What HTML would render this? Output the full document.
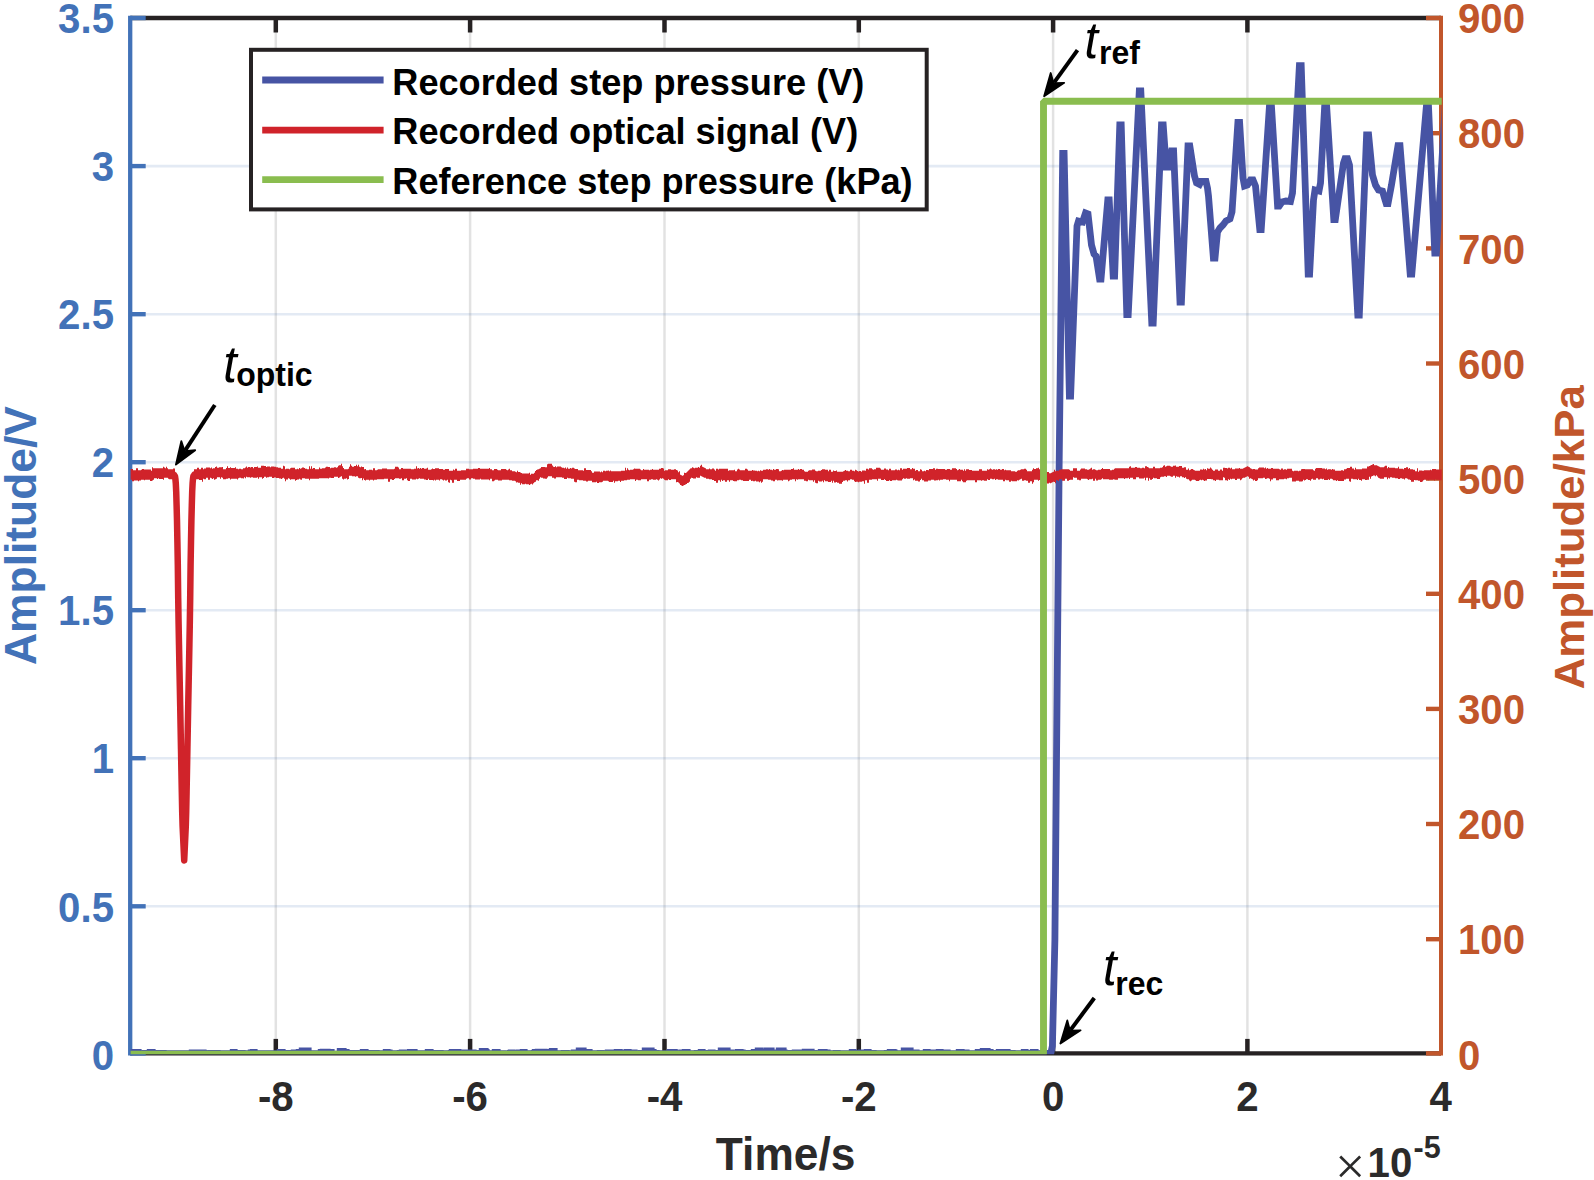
<!DOCTYPE html>
<html lang="en"><head><meta charset="utf-8"><title>Step pressure response</title>
<style>html,body{margin:0;padding:0;background:#fff;}svg{display:block;}text{font-family:"Liberation Sans",sans-serif;font-weight:bold;}.it{font-style:italic;font-weight:normal;}.rg{font-weight:normal;}</style></head><body>
<svg width="1594" height="1180" viewBox="0 0 1594 1180">
<rect width="1594" height="1180" fill="#fff"/>
<defs><clipPath id="cp"><rect x="130.6" y="17.5" width="1311.1" height="1036.8"/></clipPath></defs>
<line x1="275.8" y1="18.0" x2="275.8" y2="1053.4" stroke="#000" stroke-opacity="0.112" stroke-width="2.5"/>
<line x1="470.1" y1="18.0" x2="470.1" y2="1053.4" stroke="#000" stroke-opacity="0.112" stroke-width="2.5"/>
<line x1="664.5" y1="18.0" x2="664.5" y2="1053.4" stroke="#000" stroke-opacity="0.112" stroke-width="2.5"/>
<line x1="858.8" y1="18.0" x2="858.8" y2="1053.4" stroke="#000" stroke-opacity="0.112" stroke-width="2.5"/>
<line x1="1053.1" y1="18.0" x2="1053.1" y2="1053.4" stroke="#000" stroke-opacity="0.112" stroke-width="2.5"/>
<line x1="1247.4" y1="18.0" x2="1247.4" y2="1053.4" stroke="#000" stroke-opacity="0.112" stroke-width="2.5"/>
<line x1="130.2" y1="906.3" x2="1441.0" y2="906.3" stroke="#4272b8" stroke-opacity="0.15" stroke-width="2.6"/>
<line x1="130.2" y1="758.2" x2="1441.0" y2="758.2" stroke="#4272b8" stroke-opacity="0.15" stroke-width="2.6"/>
<line x1="130.2" y1="610.2" x2="1441.0" y2="610.2" stroke="#4272b8" stroke-opacity="0.15" stroke-width="2.6"/>
<line x1="130.2" y1="462.2" x2="1441.0" y2="462.2" stroke="#4272b8" stroke-opacity="0.15" stroke-width="2.6"/>
<line x1="130.2" y1="314.2" x2="1441.0" y2="314.2" stroke="#4272b8" stroke-opacity="0.15" stroke-width="2.6"/>
<line x1="130.2" y1="166.1" x2="1441.0" y2="166.1" stroke="#4272b8" stroke-opacity="0.15" stroke-width="2.6"/>
<line x1="130.2" y1="18.0" x2="1441.0" y2="18.0" stroke="#262223" stroke-width="4.3"/>
<line x1="130.2" y1="1053.4" x2="1441.0" y2="1053.4" stroke="#262223" stroke-width="4.3"/>
<line x1="275.8" y1="18.0" x2="275.8" y2="32.5" stroke="#262223" stroke-width="4.5"/>
<line x1="275.8" y1="1053.4" x2="275.8" y2="1038.9" stroke="#262223" stroke-width="4.5"/>
<line x1="470.1" y1="18.0" x2="470.1" y2="32.5" stroke="#262223" stroke-width="4.5"/>
<line x1="470.1" y1="1053.4" x2="470.1" y2="1038.9" stroke="#262223" stroke-width="4.5"/>
<line x1="664.5" y1="18.0" x2="664.5" y2="32.5" stroke="#262223" stroke-width="4.5"/>
<line x1="664.5" y1="1053.4" x2="664.5" y2="1038.9" stroke="#262223" stroke-width="4.5"/>
<line x1="858.8" y1="18.0" x2="858.8" y2="32.5" stroke="#262223" stroke-width="4.5"/>
<line x1="858.8" y1="1053.4" x2="858.8" y2="1038.9" stroke="#262223" stroke-width="4.5"/>
<line x1="1053.1" y1="18.0" x2="1053.1" y2="32.5" stroke="#262223" stroke-width="4.5"/>
<line x1="1053.1" y1="1053.4" x2="1053.1" y2="1038.9" stroke="#262223" stroke-width="4.5"/>
<line x1="1247.4" y1="18.0" x2="1247.4" y2="32.5" stroke="#262223" stroke-width="4.5"/>
<line x1="1247.4" y1="1053.4" x2="1247.4" y2="1038.9" stroke="#262223" stroke-width="4.5"/>
<line x1="130.2" y1="15.85" x2="130.2" y2="1055.5500000000002" stroke="#4272b8" stroke-width="4.3"/>
<line x1="1441.0" y1="15.85" x2="1441.0" y2="1055.5500000000002" stroke="#c1562b" stroke-width="4.0"/>
<line x1="130.2" y1="1053.4" x2="145.7" y2="1053.4" stroke="#4272b8" stroke-width="4.4"/>
<line x1="130.2" y1="906.3" x2="145.7" y2="906.3" stroke="#4272b8" stroke-width="4.4"/>
<line x1="130.2" y1="758.2" x2="145.7" y2="758.2" stroke="#4272b8" stroke-width="4.4"/>
<line x1="130.2" y1="610.2" x2="145.7" y2="610.2" stroke="#4272b8" stroke-width="4.4"/>
<line x1="130.2" y1="462.2" x2="145.7" y2="462.2" stroke="#4272b8" stroke-width="4.4"/>
<line x1="130.2" y1="314.2" x2="145.7" y2="314.2" stroke="#4272b8" stroke-width="4.4"/>
<line x1="130.2" y1="166.1" x2="145.7" y2="166.1" stroke="#4272b8" stroke-width="4.4"/>
<line x1="130.2" y1="18.0" x2="145.7" y2="18.0" stroke="#4272b8" stroke-width="4.4"/>
<line x1="1441.0" y1="1053.4" x2="1426.0" y2="1053.4" stroke="#c1562b" stroke-width="4.4"/>
<line x1="1441.0" y1="939.2" x2="1426.0" y2="939.2" stroke="#c1562b" stroke-width="4.4"/>
<line x1="1441.0" y1="824.0" x2="1426.0" y2="824.0" stroke="#c1562b" stroke-width="4.4"/>
<line x1="1441.0" y1="708.9" x2="1426.0" y2="708.9" stroke="#c1562b" stroke-width="4.4"/>
<line x1="1441.0" y1="593.8" x2="1426.0" y2="593.8" stroke="#c1562b" stroke-width="4.4"/>
<line x1="1441.0" y1="478.6" x2="1426.0" y2="478.6" stroke="#c1562b" stroke-width="4.4"/>
<line x1="1441.0" y1="363.5" x2="1426.0" y2="363.5" stroke="#c1562b" stroke-width="4.4"/>
<line x1="1441.0" y1="248.4" x2="1426.0" y2="248.4" stroke="#c1562b" stroke-width="4.4"/>
<line x1="1441.0" y1="133.2" x2="1426.0" y2="133.2" stroke="#c1562b" stroke-width="4.4"/>
<line x1="1441.0" y1="18.0" x2="1426.0" y2="18.0" stroke="#c1562b" stroke-width="4.4"/>
<g clip-path="url(#cp)" fill="none" stroke-linejoin="miter" stroke-miterlimit="1.7" stroke-linecap="butt">
<polyline stroke="#4754a4" stroke-width="6.8" points="128.2,1053.7 129.2,1053.7 129.2,1053.7 130.2,1053.7 130.2,1053.7 131.2,1053.7 131.2,1053.7 132.2,1053.7 132.2,1053.7 133.2,1053.7 133.2,1052.5 134.2,1052.5 134.2,1053.7 135.2,1053.7 135.2,1052.9 136.2,1052.9 136.2,1052.5 137.2,1052.5 137.2,1052.5 138.2,1052.5 138.2,1054.1 139.2,1054.1 139.2,1054.1 140.2,1054.1 140.2,1054.1 141.2,1054.1 141.2,1053.7 142.2,1053.7 142.2,1053.7 143.2,1053.7 143.2,1053.7 144.2,1053.7 144.2,1053.7 145.2,1053.7 145.2,1053.3 146.2,1053.3 146.2,1054.1 147.2,1054.1 147.2,1054.1 148.2,1054.1 148.2,1054.1 149.2,1054.1 149.2,1054.1 150.2,1054.1 150.2,1052.5 151.2,1052.5 151.2,1052.5 152.2,1052.5 152.2,1053.7 153.2,1053.7 153.2,1053.7 154.2,1053.7 154.2,1053.7 155.2,1053.7 155.2,1053.7 156.2,1053.7 156.2,1053.3 157.2,1053.3 157.2,1053.7 158.2,1053.7 158.2,1053.7 159.2,1053.7 159.2,1053.7 160.2,1053.7 160.2,1053.7 161.2,1053.7 161.2,1053.3 162.2,1053.3 162.2,1053.3 163.2,1053.3 163.2,1053.7 164.2,1053.7 164.2,1053.7 165.2,1053.7 165.2,1053.7 166.2,1053.7 166.2,1053.7 167.2,1053.7 167.2,1053.7 168.2,1053.7 168.2,1053.7 169.2,1053.7 169.2,1053.7 170.2,1053.7 170.2,1053.7 171.2,1053.7 171.2,1053.7 172.2,1053.7 172.2,1053.7 173.2,1053.7 173.2,1053.7 174.2,1053.7 174.2,1053.7 175.2,1053.7 175.2,1053.7 176.2,1053.7 176.2,1053.7 177.2,1053.7 177.2,1053.7 178.2,1053.7 178.2,1053.7 179.2,1053.7 179.2,1053.7 180.2,1053.7 180.2,1053.7 181.2,1053.7 181.2,1054.1 182.2,1054.1 182.2,1054.1 183.2,1054.1 183.2,1053.7 184.2,1053.7 184.2,1053.7 185.2,1053.7 185.2,1053.7 186.2,1053.7 186.2,1053.7 187.2,1053.7 187.2,1053.7 188.2,1053.7 188.2,1053.7 189.2,1053.7 189.2,1053.7 190.2,1053.7 190.2,1054.1 191.2,1054.1 191.2,1054.1 192.2,1054.1 192.2,1052.9 193.2,1052.9 193.2,1052.9 194.2,1052.9 194.2,1053.7 195.2,1053.7 195.2,1053.7 196.2,1053.7 196.2,1053.3 197.2,1053.3 197.2,1052.9 198.2,1052.9 198.2,1053.7 199.2,1053.7 199.2,1053.7 200.2,1053.7 200.2,1053.7 201.2,1053.7 201.2,1052.9 202.2,1052.9 202.2,1052.9 203.2,1052.9 203.2,1053.3 204.2,1053.3 204.2,1053.7 205.2,1053.7 205.2,1053.7 206.2,1053.7 206.2,1053.7 207.2,1053.7 207.2,1053.7 208.2,1053.7 208.2,1053.7 209.2,1053.7 209.2,1053.7 210.2,1053.7 210.2,1053.7 211.2,1053.7 211.2,1053.3 212.2,1053.3 212.2,1053.7 213.2,1053.7 213.2,1053.7 214.2,1053.7 214.2,1053.7 215.2,1053.7 215.2,1053.7 216.2,1053.7 216.2,1053.3 217.2,1053.3 217.2,1054.1 218.2,1054.1 218.2,1054.1 219.2,1054.1 219.2,1054.1 220.2,1054.1 220.2,1053.7 221.2,1053.7 221.2,1053.7 222.2,1053.7 222.2,1053.7 223.2,1053.7 223.2,1054.1 224.2,1054.1 224.2,1054.1 225.2,1054.1 225.2,1054.1 226.2,1054.1 226.2,1053.7 227.2,1053.7 227.2,1053.7 228.2,1053.7 228.2,1054.1 229.2,1054.1 229.2,1054.1 230.2,1054.1 230.2,1054.1 231.2,1054.1 231.2,1053.7 232.2,1053.7 232.2,1053.7 233.2,1053.7 233.2,1052.5 234.2,1052.5 234.2,1053.3 235.2,1053.3 235.2,1053.7 236.2,1053.7 236.2,1053.7 237.2,1053.7 237.2,1053.7 238.2,1053.7 238.2,1054.1 239.2,1054.1 239.2,1054.1 240.2,1054.1 240.2,1053.3 241.2,1053.3 241.2,1053.3 242.2,1053.3 242.2,1054.1 243.2,1054.1 243.2,1054.1 244.2,1054.1 244.2,1054.1 245.2,1054.1 245.2,1054.1 246.2,1054.1 246.2,1053.7 247.2,1053.7 247.2,1053.7 248.2,1053.7 248.2,1053.7 249.2,1053.7 249.2,1053.7 250.2,1053.7 250.2,1053.7 251.2,1053.7 251.2,1052.9 252.2,1052.9 252.2,1052.9 253.2,1052.9 253.2,1052.5 254.2,1052.5 254.2,1053.7 255.2,1053.7 255.2,1053.7 256.2,1053.7 256.2,1053.7 257.2,1053.7 257.2,1054.1 258.2,1054.1 258.2,1054.1 259.2,1054.1 259.2,1054.1 260.2,1054.1 260.2,1054.1 261.2,1054.1 261.2,1054.1 262.2,1054.1 262.2,1053.7 263.2,1053.7 263.2,1053.7 264.2,1053.7 264.2,1053.7 265.2,1053.7 265.2,1054.1 266.2,1054.1 266.2,1054.1 267.2,1054.1 267.2,1053.7 268.2,1053.7 268.2,1054.1 269.2,1054.1 269.2,1054.1 270.2,1054.1 270.2,1054.1 271.2,1054.1 271.2,1053.7 272.2,1053.7 272.2,1053.7 273.2,1053.7 273.2,1053.7 274.2,1053.7 274.2,1053.7 275.2,1053.7 275.2,1053.7 276.2,1053.7 276.2,1053.7 277.2,1053.7 277.2,1054.1 278.2,1054.1 278.2,1053.7 279.2,1053.7 279.2,1053.7 280.2,1053.7 280.2,1052.5 281.2,1052.5 281.2,1052.5 282.2,1052.5 282.2,1053.7 283.2,1053.7 283.2,1053.7 284.2,1053.7 284.2,1053.7 285.2,1053.7 285.2,1053.7 286.2,1053.7 286.2,1053.3 287.2,1053.3 287.2,1053.3 288.2,1053.3 288.2,1054.1 289.2,1054.1 289.2,1054.1 290.2,1054.1 290.2,1054.1 291.2,1054.1 291.2,1053.7 292.2,1053.7 292.2,1053.7 293.2,1053.7 293.2,1053.7 294.2,1053.7 294.2,1052.9 295.2,1052.9 295.2,1052.9 296.2,1052.9 296.2,1053.7 297.2,1053.7 297.2,1054.1 298.2,1054.1 298.2,1054.1 299.2,1054.1 299.2,1052.5 300.2,1052.5 300.2,1054.1 301.2,1054.1 301.2,1053.7 302.2,1053.7 302.2,1050.9 303.2,1050.9 303.2,1050.9 304.2,1050.9 304.2,1050.9 305.2,1050.9 305.2,1050.9 306.2,1050.9 306.2,1050.9 307.2,1050.9 307.2,1050.9 308.2,1050.9 308.2,1053.7 309.2,1053.7 309.2,1053.7 310.2,1053.7 310.2,1053.7 311.2,1053.7 311.2,1053.7 312.2,1053.7 312.2,1053.7 313.2,1053.7 313.2,1053.7 314.2,1053.7 314.2,1053.7 315.2,1053.7 315.2,1053.7 316.2,1053.7 316.2,1053.7 317.2,1053.7 317.2,1053.7 318.2,1053.7 318.2,1054.1 319.2,1054.1 319.2,1054.1 320.2,1054.1 320.2,1054.1 321.2,1054.1 321.2,1052.5 322.2,1052.5 322.2,1053.7 323.2,1053.7 323.2,1052.1 324.2,1052.1 324.2,1052.1 325.2,1052.1 325.2,1052.1 326.2,1052.1 326.2,1052.1 327.2,1052.1 327.2,1054.1 328.2,1054.1 328.2,1054.1 329.2,1054.1 329.2,1052.9 330.2,1052.9 330.2,1052.5 331.2,1052.5 331.2,1054.1 332.2,1054.1 332.2,1054.1 333.2,1054.1 333.2,1054.1 334.2,1054.1 334.2,1054.1 335.2,1054.1 335.2,1054.1 336.2,1054.1 336.2,1054.1 337.2,1054.1 337.2,1054.1 338.2,1054.1 338.2,1054.1 339.2,1054.1 339.2,1054.1 340.2,1054.1 340.2,1051.5 341.2,1051.5 341.2,1051.5 342.2,1051.5 342.2,1051.5 343.2,1051.5 343.2,1053.7 344.2,1053.7 344.2,1052.5 345.2,1052.5 345.2,1052.5 346.2,1052.5 346.2,1053.3 347.2,1053.3 347.2,1054.1 348.2,1054.1 348.2,1054.1 349.2,1054.1 349.2,1054.1 350.2,1054.1 350.2,1053.7 351.2,1053.7 351.2,1053.7 352.2,1053.7 352.2,1053.7 353.2,1053.7 353.2,1053.3 354.2,1053.3 354.2,1053.3 355.2,1053.3 355.2,1053.3 356.2,1053.3 356.2,1053.7 357.2,1053.7 357.2,1054.1 358.2,1054.1 358.2,1054.1 359.2,1054.1 359.2,1054.1 360.2,1054.1 360.2,1053.7 361.2,1053.7 361.2,1053.7 362.2,1053.7 362.2,1053.7 363.2,1053.7 363.2,1052.5 364.2,1052.5 364.2,1052.5 365.2,1052.5 365.2,1054.1 366.2,1054.1 366.2,1053.7 367.2,1053.7 367.2,1053.7 368.2,1053.7 368.2,1053.7 369.2,1053.7 369.2,1053.7 370.2,1053.7 370.2,1053.7 371.2,1053.7 371.2,1053.3 372.2,1053.3 372.2,1053.7 373.2,1053.7 373.2,1053.7 374.2,1053.7 374.2,1053.7 375.2,1053.7 375.2,1053.3 376.2,1053.3 376.2,1053.7 377.2,1053.7 377.2,1054.1 378.2,1054.1 378.2,1054.1 379.2,1054.1 379.2,1054.1 380.2,1054.1 380.2,1053.7 381.2,1053.7 381.2,1053.7 382.2,1053.7 382.2,1053.7 383.2,1053.7 383.2,1053.7 384.2,1053.7 384.2,1053.7 385.2,1053.7 385.2,1053.7 386.2,1053.7 386.2,1052.5 387.2,1052.5 387.2,1052.9 388.2,1052.9 388.2,1052.9 389.2,1052.9 389.2,1053.7 390.2,1053.7 390.2,1053.7 391.2,1053.7 391.2,1053.7 392.2,1053.7 392.2,1053.7 393.2,1053.7 393.2,1053.7 394.2,1053.7 394.2,1053.7 395.2,1053.7 395.2,1053.7 396.2,1053.7 396.2,1054.1 397.2,1054.1 397.2,1054.1 398.2,1054.1 398.2,1054.1 399.2,1054.1 399.2,1054.1 400.2,1054.1 400.2,1053.3 401.2,1053.3 401.2,1053.7 402.2,1053.7 402.2,1052.9 403.2,1052.9 403.2,1053.7 404.2,1053.7 404.2,1053.7 405.2,1053.7 405.2,1053.7 406.2,1053.7 406.2,1053.7 407.2,1053.7 407.2,1053.7 408.2,1053.7 408.2,1053.7 409.2,1053.7 409.2,1053.7 410.2,1053.7 410.2,1052.5 411.2,1052.5 411.2,1052.5 412.2,1052.5 412.2,1053.7 413.2,1053.7 413.2,1052.5 414.2,1052.5 414.2,1053.7 415.2,1053.7 415.2,1053.7 416.2,1053.7 416.2,1054.1 417.2,1054.1 417.2,1053.7 418.2,1053.7 418.2,1053.7 419.2,1053.7 419.2,1053.7 420.2,1053.7 420.2,1053.7 421.2,1053.7 421.2,1053.7 422.2,1053.7 422.2,1053.7 423.2,1053.7 423.2,1054.1 424.2,1054.1 424.2,1054.1 425.2,1054.1 425.2,1053.7 426.2,1053.7 426.2,1053.7 427.2,1053.7 427.2,1053.7 428.2,1053.7 428.2,1052.5 429.2,1052.5 429.2,1052.5 430.2,1052.5 430.2,1053.3 431.2,1053.3 431.2,1053.3 432.2,1053.3 432.2,1054.1 433.2,1054.1 433.2,1054.1 434.2,1054.1 434.2,1053.7 435.2,1053.7 435.2,1053.7 436.2,1053.7 436.2,1054.1 437.2,1054.1 437.2,1053.3 438.2,1053.3 438.2,1053.3 439.2,1053.3 439.2,1053.3 440.2,1053.3 440.2,1053.7 441.2,1053.7 441.2,1053.7 442.2,1053.7 442.2,1053.7 443.2,1053.7 443.2,1053.7 444.2,1053.7 444.2,1054.1 445.2,1054.1 445.2,1054.1 446.2,1054.1 446.2,1054.1 447.2,1054.1 447.2,1054.1 448.2,1054.1 448.2,1053.7 449.2,1053.7 449.2,1053.7 450.2,1053.7 450.2,1053.7 451.2,1053.7 451.2,1053.3 452.2,1053.3 452.2,1052.5 453.2,1052.5 453.2,1052.5 454.2,1052.5 454.2,1053.7 455.2,1053.7 455.2,1053.7 456.2,1053.7 456.2,1053.7 457.2,1053.7 457.2,1052.5 458.2,1052.5 458.2,1053.7 459.2,1053.7 459.2,1053.7 460.2,1053.7 460.2,1053.7 461.2,1053.7 461.2,1053.7 462.2,1053.7 462.2,1053.7 463.2,1053.7 463.2,1053.7 464.2,1053.7 464.2,1053.7 465.2,1053.7 465.2,1052.9 466.2,1052.9 466.2,1053.7 467.2,1053.7 467.2,1053.7 468.2,1053.7 468.2,1053.7 469.2,1053.7 469.2,1053.7 470.2,1053.7 470.2,1054.1 471.2,1054.1 471.2,1054.1 472.2,1054.1 472.2,1052.9 473.2,1052.9 473.2,1053.7 474.2,1053.7 474.2,1053.7 475.2,1053.7 475.2,1053.7 476.2,1053.7 476.2,1053.7 477.2,1053.7 477.2,1053.7 478.2,1053.7 478.2,1053.7 479.2,1053.7 479.2,1053.3 480.2,1053.3 480.2,1053.7 481.2,1053.7 481.2,1053.7 482.2,1053.7 482.2,1051.5 483.2,1051.5 483.2,1051.5 484.2,1051.5 484.2,1051.5 485.2,1051.5 485.2,1052.5 486.2,1052.5 486.2,1054.1 487.2,1054.1 487.2,1054.1 488.2,1054.1 488.2,1054.1 489.2,1054.1 489.2,1053.7 490.2,1053.7 490.2,1053.7 491.2,1053.7 491.2,1053.7 492.2,1053.7 492.2,1053.7 493.2,1053.7 493.2,1053.7 494.2,1053.7 494.2,1054.1 495.2,1054.1 495.2,1052.5 496.2,1052.5 496.2,1052.5 497.2,1052.5 497.2,1054.1 498.2,1054.1 498.2,1054.1 499.2,1054.1 499.2,1054.1 500.2,1054.1 500.2,1053.7 501.2,1053.7 501.2,1053.7 502.2,1053.7 502.2,1053.7 503.2,1053.7 503.2,1054.1 504.2,1054.1 504.2,1054.1 505.2,1054.1 505.2,1054.1 506.2,1054.1 506.2,1054.1 507.2,1054.1 507.2,1054.1 508.2,1054.1 508.2,1054.1 509.2,1054.1 509.2,1054.1 510.2,1054.1 510.2,1053.3 511.2,1053.3 511.2,1052.9 512.2,1052.9 512.2,1053.7 513.2,1053.7 513.2,1053.7 514.2,1053.7 514.2,1053.7 515.2,1053.7 515.2,1053.3 516.2,1053.3 516.2,1053.3 517.2,1053.3 517.2,1053.7 518.2,1053.7 518.2,1053.7 519.2,1053.7 519.2,1052.9 520.2,1052.9 520.2,1054.1 521.2,1054.1 521.2,1054.1 522.2,1054.1 522.2,1054.1 523.2,1054.1 523.2,1052.5 524.2,1052.5 524.2,1053.7 525.2,1053.7 525.2,1053.7 526.2,1053.7 526.2,1053.7 527.2,1053.7 527.2,1053.7 528.2,1053.7 528.2,1053.7 529.2,1053.7 529.2,1053.7 530.2,1053.7 530.2,1053.7 531.2,1053.7 531.2,1053.7 532.2,1053.7 532.2,1053.7 533.2,1053.7 533.2,1054.1 534.2,1054.1 534.2,1053.3 535.2,1053.3 535.2,1052.5 536.2,1052.5 536.2,1052.5 537.2,1052.5 537.2,1054.1 538.2,1054.1 538.2,1052.1 539.2,1052.1 539.2,1052.1 540.2,1052.1 540.2,1052.1 541.2,1052.1 541.2,1052.1 542.2,1052.1 542.2,1052.1 543.2,1052.1 543.2,1052.1 544.2,1052.1 544.2,1052.5 545.2,1052.5 545.2,1054.1 546.2,1054.1 546.2,1054.1 547.2,1054.1 547.2,1052.5 548.2,1052.5 548.2,1053.7 549.2,1053.7 549.2,1054.1 550.2,1054.1 550.2,1053.7 551.2,1053.7 551.2,1053.7 552.2,1053.7 552.2,1051.5 553.2,1051.5 553.2,1051.5 554.2,1051.5 554.2,1053.7 555.2,1053.7 555.2,1053.7 556.2,1053.7 556.2,1053.7 557.2,1053.7 557.2,1053.7 558.2,1053.7 558.2,1053.7 559.2,1053.7 559.2,1053.7 560.2,1053.7 560.2,1053.7 561.2,1053.7 561.2,1054.1 562.2,1054.1 562.2,1054.1 563.2,1054.1 563.2,1054.1 564.2,1054.1 564.2,1053.3 565.2,1053.3 565.2,1053.3 566.2,1053.3 566.2,1053.7 567.2,1053.7 567.2,1053.7 568.2,1053.7 568.2,1053.7 569.2,1053.7 569.2,1054.1 570.2,1054.1 570.2,1054.1 571.2,1054.1 571.2,1054.1 572.2,1054.1 572.2,1053.7 573.2,1053.7 573.2,1053.7 574.2,1053.7 574.2,1052.9 575.2,1052.9 575.2,1053.7 576.2,1053.7 576.2,1053.7 577.2,1053.7 577.2,1053.3 578.2,1053.3 578.2,1053.3 579.2,1053.3 579.2,1050.9 580.2,1050.9 580.2,1050.9 581.2,1050.9 581.2,1050.9 582.2,1050.9 582.2,1050.9 583.2,1050.9 583.2,1053.3 584.2,1053.3 584.2,1054.1 585.2,1054.1 585.2,1053.7 586.2,1053.7 586.2,1053.7 587.2,1053.7 587.2,1053.7 588.2,1053.7 588.2,1052.5 589.2,1052.5 589.2,1053.7 590.2,1053.7 590.2,1053.7 591.2,1053.7 591.2,1053.7 592.2,1053.7 592.2,1053.7 593.2,1053.7 593.2,1053.7 594.2,1053.7 594.2,1053.7 595.2,1053.7 595.2,1054.1 596.2,1054.1 596.2,1054.1 597.2,1054.1 597.2,1054.1 598.2,1054.1 598.2,1054.1 599.2,1054.1 599.2,1054.1 600.2,1054.1 600.2,1053.3 601.2,1053.3 601.2,1053.7 602.2,1053.7 602.2,1053.7 603.2,1053.7 603.2,1053.7 604.2,1053.7 604.2,1053.7 605.2,1053.7 605.2,1053.7 606.2,1053.7 606.2,1053.7 607.2,1053.7 607.2,1054.1 608.2,1054.1 608.2,1052.9 609.2,1052.9 609.2,1052.9 610.2,1052.9 610.2,1052.9 611.2,1052.9 611.2,1054.1 612.2,1054.1 612.2,1054.1 613.2,1054.1 613.2,1053.7 614.2,1053.7 614.2,1053.7 615.2,1053.7 615.2,1054.1 616.2,1054.1 616.2,1054.1 617.2,1054.1 617.2,1052.5 618.2,1052.5 618.2,1052.5 619.2,1052.5 619.2,1053.7 620.2,1053.7 620.2,1053.7 621.2,1053.7 621.2,1053.7 622.2,1053.7 622.2,1053.7 623.2,1053.7 623.2,1053.3 624.2,1053.3 624.2,1052.9 625.2,1052.9 625.2,1052.9 626.2,1052.9 626.2,1053.3 627.2,1053.3 627.2,1052.5 628.2,1052.5 628.2,1054.1 629.2,1054.1 629.2,1054.1 630.2,1054.1 630.2,1054.1 631.2,1054.1 631.2,1054.1 632.2,1054.1 632.2,1054.1 633.2,1054.1 633.2,1052.9 634.2,1052.9 634.2,1053.7 635.2,1053.7 635.2,1053.7 636.2,1053.7 636.2,1053.7 637.2,1053.7 637.2,1054.1 638.2,1054.1 638.2,1054.1 639.2,1054.1 639.2,1054.1 640.2,1054.1 640.2,1053.7 641.2,1053.7 641.2,1053.3 642.2,1053.3 642.2,1053.7 643.2,1053.7 643.2,1053.7 644.2,1053.7 644.2,1053.7 645.2,1053.7 645.2,1050.9 646.2,1050.9 646.2,1050.9 647.2,1050.9 647.2,1050.9 648.2,1050.9 648.2,1050.9 649.2,1050.9 649.2,1050.9 650.2,1050.9 650.2,1050.9 651.2,1050.9 651.2,1053.7 652.2,1053.7 652.2,1052.5 653.2,1052.5 653.2,1053.7 654.2,1053.7 654.2,1053.3 655.2,1053.3 655.2,1053.3 656.2,1053.3 656.2,1053.7 657.2,1053.7 657.2,1053.7 658.2,1053.7 658.2,1053.7 659.2,1053.7 659.2,1053.7 660.2,1053.7 660.2,1053.7 661.2,1053.7 661.2,1053.7 662.2,1053.7 662.2,1053.7 663.2,1053.7 663.2,1053.7 664.2,1053.7 664.2,1054.1 665.2,1054.1 665.2,1054.1 666.2,1054.1 666.2,1054.1 667.2,1054.1 667.2,1053.7 668.2,1053.7 668.2,1053.7 669.2,1053.7 669.2,1053.7 670.2,1053.7 670.2,1052.5 671.2,1052.5 671.2,1053.7 672.2,1053.7 672.2,1052.5 673.2,1052.5 673.2,1052.5 674.2,1052.5 674.2,1052.9 675.2,1052.9 675.2,1053.7 676.2,1053.7 676.2,1053.7 677.2,1053.7 677.2,1053.7 678.2,1053.7 678.2,1054.1 679.2,1054.1 679.2,1053.7 680.2,1053.7 680.2,1053.7 681.2,1053.7 681.2,1053.7 682.2,1053.7 682.2,1052.9 683.2,1052.9 683.2,1052.9 684.2,1052.9 684.2,1053.7 685.2,1053.7 685.2,1052.5 686.2,1052.5 686.2,1052.5 687.2,1052.5 687.2,1053.7 688.2,1053.7 688.2,1053.7 689.2,1053.7 689.2,1054.1 690.2,1054.1 690.2,1054.1 691.2,1054.1 691.2,1053.7 692.2,1053.7 692.2,1053.7 693.2,1053.7 693.2,1053.7 694.2,1053.7 694.2,1053.7 695.2,1053.7 695.2,1053.7 696.2,1053.7 696.2,1054.1 697.2,1054.1 697.2,1053.3 698.2,1053.3 698.2,1053.7 699.2,1053.7 699.2,1053.7 700.2,1053.7 700.2,1053.7 701.2,1053.7 701.2,1052.5 702.2,1052.5 702.2,1053.7 703.2,1053.7 703.2,1053.7 704.2,1053.7 704.2,1054.1 705.2,1054.1 705.2,1053.7 706.2,1053.7 706.2,1053.7 707.2,1053.7 707.2,1053.3 708.2,1053.3 708.2,1053.3 709.2,1053.3 709.2,1053.3 710.2,1053.3 710.2,1053.3 711.2,1053.3 711.2,1052.9 712.2,1052.9 712.2,1053.7 713.2,1053.7 713.2,1053.7 714.2,1053.7 714.2,1053.7 715.2,1053.7 715.2,1053.3 716.2,1053.3 716.2,1053.7 717.2,1053.7 717.2,1053.7 718.2,1053.7 718.2,1053.7 719.2,1053.7 719.2,1054.1 720.2,1054.1 720.2,1054.1 721.2,1054.1 721.2,1050.9 722.2,1050.9 722.2,1050.9 723.2,1050.9 723.2,1050.9 724.2,1050.9 724.2,1050.9 725.2,1050.9 725.2,1050.9 726.2,1050.9 726.2,1050.9 727.2,1050.9 727.2,1053.7 728.2,1053.7 728.2,1053.7 729.2,1053.7 729.2,1053.3 730.2,1053.3 730.2,1052.9 731.2,1052.9 731.2,1053.7 732.2,1053.7 732.2,1053.7 733.2,1053.7 733.2,1053.7 734.2,1053.7 734.2,1053.7 735.2,1053.7 735.2,1053.7 736.2,1053.7 736.2,1053.7 737.2,1053.7 737.2,1053.7 738.2,1053.7 738.2,1052.5 739.2,1052.5 739.2,1052.5 740.2,1052.5 740.2,1052.9 741.2,1052.9 741.2,1052.9 742.2,1052.9 742.2,1053.7 743.2,1053.7 743.2,1053.7 744.2,1053.7 744.2,1053.7 745.2,1053.7 745.2,1054.1 746.2,1054.1 746.2,1054.1 747.2,1054.1 747.2,1053.3 748.2,1053.3 748.2,1053.3 749.2,1053.3 749.2,1053.3 750.2,1053.3 750.2,1053.3 751.2,1053.3 751.2,1053.7 752.2,1053.7 752.2,1053.7 753.2,1053.7 753.2,1054.1 754.2,1054.1 754.2,1052.5 755.2,1052.5 755.2,1052.5 756.2,1052.5 756.2,1053.7 757.2,1053.7 757.2,1053.7 758.2,1053.7 758.2,1050.9 759.2,1050.9 759.2,1050.9 760.2,1050.9 760.2,1052.1 761.2,1052.1 761.2,1052.1 762.2,1052.1 762.2,1053.7 763.2,1053.7 763.2,1053.7 764.2,1053.7 764.2,1053.7 765.2,1053.7 765.2,1053.7 766.2,1053.7 766.2,1052.9 767.2,1052.9 767.2,1050.9 768.2,1050.9 768.2,1050.9 769.2,1050.9 769.2,1050.9 770.2,1050.9 770.2,1050.9 771.2,1050.9 771.2,1053.7 772.2,1053.7 772.2,1053.7 773.2,1053.7 773.2,1053.7 774.2,1053.7 774.2,1052.9 775.2,1052.9 775.2,1054.1 776.2,1054.1 776.2,1053.7 777.2,1053.7 777.2,1053.3 778.2,1053.3 778.2,1053.3 779.2,1053.3 779.2,1050.9 780.2,1050.9 780.2,1050.9 781.2,1050.9 781.2,1050.9 782.2,1050.9 782.2,1050.9 783.2,1050.9 783.2,1052.9 784.2,1052.9 784.2,1053.7 785.2,1053.7 785.2,1053.7 786.2,1053.7 786.2,1053.7 787.2,1053.7 787.2,1053.3 788.2,1053.3 788.2,1054.1 789.2,1054.1 789.2,1054.1 790.2,1054.1 790.2,1053.3 791.2,1053.3 791.2,1054.1 792.2,1054.1 792.2,1054.1 793.2,1054.1 793.2,1053.7 794.2,1053.7 794.2,1053.7 795.2,1053.7 795.2,1052.9 796.2,1052.9 796.2,1052.9 797.2,1052.9 797.2,1053.7 798.2,1053.7 798.2,1052.9 799.2,1052.9 799.2,1052.9 800.2,1052.9 800.2,1053.3 801.2,1053.3 801.2,1053.3 802.2,1053.3 802.2,1053.3 803.2,1053.3 803.2,1054.1 804.2,1054.1 804.2,1053.7 805.2,1053.7 805.2,1052.1 806.2,1052.1 806.2,1052.1 807.2,1052.1 807.2,1052.1 808.2,1052.1 808.2,1052.1 809.2,1052.1 809.2,1052.1 810.2,1052.1 810.2,1052.1 811.2,1052.1 811.2,1053.7 812.2,1053.7 812.2,1053.7 813.2,1053.7 813.2,1053.3 814.2,1053.3 814.2,1054.1 815.2,1054.1 815.2,1053.7 816.2,1053.7 816.2,1053.7 817.2,1053.7 817.2,1053.7 818.2,1053.7 818.2,1053.7 819.2,1053.7 819.2,1053.7 820.2,1053.7 820.2,1053.7 821.2,1053.7 821.2,1052.5 822.2,1052.5 822.2,1052.5 823.2,1052.5 823.2,1052.5 824.2,1052.5 824.2,1053.7 825.2,1053.7 825.2,1053.7 826.2,1053.7 826.2,1052.9 827.2,1052.9 827.2,1054.1 828.2,1054.1 828.2,1053.7 829.2,1053.7 829.2,1053.7 830.2,1053.7 830.2,1053.7 831.2,1053.7 831.2,1053.7 832.2,1053.7 832.2,1053.7 833.2,1053.7 833.2,1053.7 834.2,1053.7 834.2,1054.1 835.2,1054.1 835.2,1054.1 836.2,1054.1 836.2,1053.3 837.2,1053.3 837.2,1053.7 838.2,1053.7 838.2,1053.7 839.2,1053.7 839.2,1053.7 840.2,1053.7 840.2,1054.1 841.2,1054.1 841.2,1053.7 842.2,1053.7 842.2,1053.7 843.2,1053.7 843.2,1054.1 844.2,1054.1 844.2,1054.1 845.2,1054.1 845.2,1053.7 846.2,1053.7 846.2,1053.7 847.2,1053.7 847.2,1053.7 848.2,1053.7 848.2,1053.7 849.2,1053.7 849.2,1053.7 850.2,1053.7 850.2,1053.7 851.2,1053.7 851.2,1053.7 852.2,1053.7 852.2,1052.5 853.2,1052.5 853.2,1053.3 854.2,1053.3 854.2,1053.7 855.2,1053.7 855.2,1053.7 856.2,1053.7 856.2,1053.7 857.2,1053.7 857.2,1053.7 858.2,1053.7 858.2,1053.7 859.2,1053.7 859.2,1053.3 860.2,1053.3 860.2,1053.3 861.2,1053.3 861.2,1052.9 862.2,1052.9 862.2,1053.7 863.2,1053.7 863.2,1053.7 864.2,1053.7 864.2,1053.7 865.2,1053.7 865.2,1053.7 866.2,1053.7 866.2,1053.7 867.2,1053.7 867.2,1052.5 868.2,1052.5 868.2,1053.7 869.2,1053.7 869.2,1053.7 870.2,1053.7 870.2,1053.7 871.2,1053.7 871.2,1053.7 872.2,1053.7 872.2,1053.3 873.2,1053.3 873.2,1054.1 874.2,1054.1 874.2,1054.1 875.2,1054.1 875.2,1054.1 876.2,1054.1 876.2,1054.1 877.2,1054.1 877.2,1054.1 878.2,1054.1 878.2,1054.1 879.2,1054.1 879.2,1053.7 880.2,1053.7 880.2,1053.7 881.2,1053.7 881.2,1053.7 882.2,1053.7 882.2,1053.7 883.2,1053.7 883.2,1053.7 884.2,1053.7 884.2,1053.7 885.2,1053.7 885.2,1053.7 886.2,1053.7 886.2,1053.7 887.2,1053.7 887.2,1053.3 888.2,1053.3 888.2,1054.1 889.2,1054.1 889.2,1053.7 890.2,1053.7 890.2,1052.5 891.2,1052.5 891.2,1052.5 892.2,1052.5 892.2,1052.5 893.2,1052.5 893.2,1052.9 894.2,1052.9 894.2,1053.7 895.2,1053.7 895.2,1053.7 896.2,1053.7 896.2,1053.7 897.2,1053.7 897.2,1053.7 898.2,1053.7 898.2,1053.7 899.2,1053.7 899.2,1053.7 900.2,1053.7 900.2,1054.1 901.2,1054.1 901.2,1054.1 902.2,1054.1 902.2,1054.1 903.2,1054.1 903.2,1053.7 904.2,1053.7 904.2,1050.9 905.2,1050.9 905.2,1050.9 906.2,1050.9 906.2,1050.9 907.2,1050.9 907.2,1050.9 908.2,1050.9 908.2,1050.9 909.2,1050.9 909.2,1050.9 910.2,1050.9 910.2,1053.7 911.2,1053.7 911.2,1053.7 912.2,1053.7 912.2,1053.7 913.2,1053.7 913.2,1053.7 914.2,1053.7 914.2,1053.7 915.2,1053.7 915.2,1052.9 916.2,1052.9 916.2,1053.7 917.2,1053.7 917.2,1053.7 918.2,1053.7 918.2,1053.7 919.2,1053.7 919.2,1053.7 920.2,1053.7 920.2,1053.7 921.2,1053.7 921.2,1053.7 922.2,1053.7 922.2,1053.7 923.2,1053.7 923.2,1054.1 924.2,1054.1 924.2,1054.1 925.2,1054.1 925.2,1054.1 926.2,1054.1 926.2,1052.5 927.2,1052.5 927.2,1053.7 928.2,1053.7 928.2,1054.1 929.2,1054.1 929.2,1054.1 930.2,1054.1 930.2,1054.1 931.2,1054.1 931.2,1053.7 932.2,1053.7 932.2,1052.9 933.2,1052.9 933.2,1053.7 934.2,1053.7 934.2,1053.7 935.2,1053.7 935.2,1053.7 936.2,1053.7 936.2,1053.7 937.2,1053.7 937.2,1054.1 938.2,1054.1 938.2,1054.1 939.2,1054.1 939.2,1052.5 940.2,1052.5 940.2,1053.7 941.2,1053.7 941.2,1052.9 942.2,1052.9 942.2,1054.1 943.2,1054.1 943.2,1054.1 944.2,1054.1 944.2,1054.1 945.2,1054.1 945.2,1052.9 946.2,1052.9 946.2,1052.9 947.2,1052.9 947.2,1053.7 948.2,1053.7 948.2,1053.7 949.2,1053.7 949.2,1053.7 950.2,1053.7 950.2,1053.7 951.2,1053.7 951.2,1053.7 952.2,1053.7 952.2,1053.7 953.2,1053.7 953.2,1053.7 954.2,1053.7 954.2,1053.7 955.2,1053.7 955.2,1053.7 956.2,1053.7 956.2,1053.7 957.2,1053.7 957.2,1053.7 958.2,1053.7 958.2,1054.1 959.2,1054.1 959.2,1052.5 960.2,1052.5 960.2,1052.5 961.2,1052.5 961.2,1054.1 962.2,1054.1 962.2,1054.1 963.2,1054.1 963.2,1052.9 964.2,1052.9 964.2,1052.9 965.2,1052.9 965.2,1052.9 966.2,1052.9 966.2,1053.7 967.2,1053.7 967.2,1053.7 968.2,1053.7 968.2,1053.7 969.2,1053.7 969.2,1053.7 970.2,1053.7 970.2,1053.7 971.2,1053.7 971.2,1053.7 972.2,1053.7 972.2,1053.7 973.2,1053.7 973.2,1054.1 974.2,1054.1 974.2,1054.1 975.2,1054.1 975.2,1054.1 976.2,1054.1 976.2,1054.1 977.2,1054.1 977.2,1053.7 978.2,1053.7 978.2,1052.5 979.2,1052.5 979.2,1053.7 980.2,1053.7 980.2,1053.3 981.2,1053.3 981.2,1053.3 982.2,1053.3 982.2,1053.7 983.2,1053.7 983.2,1051.5 984.2,1051.5 984.2,1051.5 985.2,1051.5 985.2,1051.5 986.2,1051.5 986.2,1051.5 987.2,1051.5 987.2,1052.9 988.2,1052.9 988.2,1052.9 989.2,1052.9 989.2,1052.5 990.2,1052.5 990.2,1053.7 991.2,1053.7 991.2,1053.7 992.2,1053.7 992.2,1053.7 993.2,1053.7 993.2,1053.3 994.2,1053.3 994.2,1053.3 995.2,1053.3 995.2,1053.3 996.2,1053.3 996.2,1054.1 997.2,1054.1 997.2,1054.1 998.2,1054.1 998.2,1053.7 999.2,1053.7 999.2,1052.5 1000.2,1052.5 1000.2,1054.1 1001.2,1054.1 1001.2,1054.1 1002.2,1054.1 1002.2,1054.1 1003.2,1054.1 1003.2,1054.1 1004.2,1054.1 1004.2,1054.1 1005.2,1054.1 1005.2,1053.7 1006.2,1053.7 1006.2,1052.5 1007.2,1052.5 1007.2,1053.7 1008.2,1053.7 1008.2,1053.3 1009.2,1053.3 1009.2,1054.1 1010.2,1054.1 1010.2,1053.3 1011.2,1053.3 1011.2,1053.3 1012.2,1053.3 1012.2,1054.1 1013.2,1054.1 1013.2,1054.1 1014.2,1054.1 1014.2,1054.1 1015.2,1054.1 1015.2,1054.1 1016.2,1054.1 1016.2,1053.7 1017.2,1053.7 1017.2,1053.7 1018.2,1053.7 1018.2,1054.1 1019.2,1054.1 1019.2,1054.1 1020.2,1054.1 1020.2,1053.7 1021.2,1053.7 1021.2,1053.7 1022.2,1053.7 1022.2,1054.1 1023.2,1054.1 1023.2,1054.1 1024.2,1054.1 1024.2,1052.5 1025.2,1052.5 1025.2,1053.3 1026.2,1053.3 1026.2,1053.3 1027.2,1053.3 1027.2,1054.1 1028.2,1054.1 1028.2,1054.1 1029.2,1054.1 1029.2,1054.1 1030.2,1054.1 1030.2,1053.7 1031.2,1053.7 1031.2,1053.7 1032.2,1053.7 1032.2,1053.7 1033.2,1053.7 1033.2,1052.5 1034.2,1052.5 1034.2,1052.5 1035.2,1052.5 1035.2,1054.1 1036.2,1054.1 1036.2,1054.1 1037.2,1054.1 1037.2,1054.1 1038.2,1054.1 1038.2,1053.7 1039.2,1053.7 1039.2,1053.7 1040.2,1053.7 1040.2,1053.7 1041.2,1053.7 1041.2,1053.7 1042.2,1053.7 1042.2,1053.7 1043.2,1053.7 1043.2,1053.3 1044.2,1053.3 1044.2,1053.3 1045.2,1053.3 1045.2,1053.3 1046.2,1053.3 1046.2,1053.3 1047.2,1053.3 1047.2,1053.7 1048.2,1053.7 1048.2,1053.7 1049.2,1053.7 1050.0,1054.3 1050.6,1054.3 1052.4,1046.0 1054.9,940.0 1059.1,470.0 1059.9,400.0 1062.7,153.5 1064.1,153.5 1069.4,396.0 1070.6,396.0 1077.0,226.0 1078.5,221.0 1082.5,222.0 1085.5,213.0 1088.0,214.0 1091.5,245.0 1094.0,254.0 1096.0,256.0 1099.6,279.0 1101.0,279.0 1107.8,200.0 1109.2,200.0 1113.2,276.0 1114.6,276.0 1119.8,125.0 1121.2,125.0 1126.8,314.5 1128.2,314.5 1139.3,91.0 1140.8,91.0 1151.8,323.0 1153.2,323.0 1161.5,125.0 1163.2,125.0 1166.2,167.0 1168.4,167.0 1171.6,151.0 1173.6,151.0 1180.0,302.0 1181.4,302.0 1188.0,146.0 1189.8,146.0 1194.5,176.0 1196.5,183.0 1199.5,184.5 1201.0,181.5 1206.0,181.5 1207.5,188.0 1208.5,196.0 1213.4,258.0 1215.0,258.0 1217.5,232.0 1220.0,228.0 1223.0,225.0 1226.0,221.0 1230.0,219.0 1232.0,212.0 1237.9,122.5 1239.6,122.5 1243.0,178.0 1244.5,186.0 1247.5,185.0 1250.5,180.0 1253.0,180.0 1255.5,186.0 1259.8,229.5 1261.2,229.5 1269.6,104.0 1271.3,104.0 1277.6,206.0 1279.2,206.0 1282.0,202.0 1286.0,201.0 1290.5,201.5 1292.5,193.0 1299.4,65.7 1301.2,65.7 1308.2,274.0 1309.6,274.0 1313.5,200.0 1315.0,190.0 1319.0,191.0 1320.5,183.0 1324.8,104.0 1326.5,104.0 1333.8,219.7 1335.3,219.7 1343.5,163.0 1345.0,158.6 1347.5,158.6 1349.5,165.0 1357.8,315.0 1359.3,315.0 1366.6,134.8 1368.6,134.8 1372.5,175.0 1375.5,185.0 1378.5,190.0 1382.5,191.0 1384.5,198.0 1386.2,203.5 1388.0,203.5 1391.5,185.0 1398.0,145.7 1400.0,145.7 1410.2,274.0 1411.8,274.0 1426.6,104.0 1428.4,104.0 1434.8,253.0 1436.4,253.0 1445.8,96.0"/>
<path fill="#d0232a" stroke="none" d="M128 469.18h1V469.18h1V469.08h1V469.08h1V469.08h1V470.28h1V470.28h1V470.28h1V468.28h1V468.28h1V470.28h1V470.28h1V470.28h1V469.68h1V469.08h1V469.08h1V469.58h1V469.58h1V469.58h1V469.58h1V469.58h1V469.58h1V469.58h1V470.78h1V467.28h1V468.18h1V468.18h1V468.18h1V468.18h1V468.18h1V468.18h1V468.18h1V468.18h1V468.18h1V468.18h1V466.78h1V467.58h1V468.18h1V466.78h1V468.18h1V469.18h1V469.18h1V469.18h1V469.18h1V469.18h1V468.58h1V468.58h1V479.28h-1V479.28h-1V479.28h-1V479.28h-1V479.28h-1V479.28h-1V478.68h-1V477.68h-1V477.68h-1V477.68h-1V477.68h-1V479.68h-1V478.88h-1V478.88h-1V478.88h-1V478.88h-1V478.28h-1V478.88h-1V478.28h-1V478.28h-1V478.28h-1V479.68h-1V480.38h-1V480.88h-1V480.88h-1V479.68h-1V479.68h-1V479.68h-1V479.68h-1V479.68h-1V480.28h-1V479.78h-1V479.78h-1V479.78h-1V480.38h-1V480.38h-1V481.18h-1V480.38h-1V480.38h-1V480.38h-1V480.38h-1V481.18h-1V481.18h-1V479.78h-1V479.78h-1V479.28h-1V479.28h-1Z"/>
<path fill="#d0232a" stroke="none" d="M194 469.18h1V469.18h1V469.18h1V467.78h1V467.78h1V469.18h1V469.18h1V467.78h1V467.78h1V469.18h1V468.58h1V468.58h1V467.58h1V467.58h1V467.58h1V467.58h1V468.18h1V467.58h1V468.78h1V468.18h1V468.18h1V467.08h1V466.58h1V467.78h1V467.78h1V467.18h1V467.18h1V467.18h1V467.08h1V469.18h1V469.18h1V469.18h1V468.08h1V466.28h1V468.08h1V468.08h1V467.28h1V468.08h1V468.08h1V468.08h1V468.08h1V467.28h1V468.68h1V468.68h1V469.28h1V468.78h1V468.78h1V469.28h1V469.28h1V468.28h1V468.28h1V467.58h1V466.58h1V467.68h1V467.08h1V467.08h1V467.58h1V467.08h1V467.08h1V468.28h1V467.08h1V467.08h1V467.08h1V466.58h1V467.78h1V467.78h1V467.78h1V465.78h1V465.78h1V465.78h1V466.08h1V466.08h1V467.08h1V466.58h1V466.58h1V466.58h1V467.18h1V466.58h1V466.58h1V466.58h1V466.68h1V466.68h1V467.18h1V467.18h1V467.78h1V467.68h1V467.68h1V468.78h1V468.78h1V465.78h1V466.28h1V469.28h1V468.68h1V468.68h1V468.68h1V469.28h1V468.28h1V467.78h1V467.78h1V467.78h1V467.78h1V469.18h1V469.18h1V468.68h1V469.28h1V468.08h1V468.68h1V468.18h1V467.58h1V467.58h1V468.08h1V468.68h1V468.68h1V469.28h1V469.28h1V466.28h1V468.68h1V466.28h1V468.68h1V468.08h1V468.08h1V469.28h1V469.28h1V469.28h1V469.28h1V467.58h1V468.78h1V468.78h1V468.18h1V468.18h1V468.18h1V467.58h1V466.78h1V466.78h1V467.08h1V467.08h1V468.28h1V467.78h1V467.78h1V467.78h1V467.18h1V467.18h1V467.78h1V467.18h1V465.78h1V465.28h1V465.28h1V463.78h1V466.28h1V468.08h1V469.28h1V469.28h1V469.28h1V469.28h1V468.78h1V466.78h1V464.28h1V465.68h1V466.68h1V466.68h1V466.08h1V466.08h1V464.78h1V466.18h1V464.78h1V466.68h1V467.28h1V466.58h1V467.08h1V467.08h1V469.18h1V469.08h1V470.28h1V470.28h1V470.28h1V469.68h1V469.68h1V469.68h1V470.28h1V468.28h1V468.28h1V470.28h1V470.28h1V469.78h1V469.18h1V469.18h1V469.18h1V469.18h1V468.58h1V468.58h1V468.58h1V468.58h1V468.58h1V469.18h1V469.18h1V469.18h1V469.18h1V469.18h1V469.18h1V469.18h1V468.78h1V466.78h1V466.78h1V466.78h1V467.58h1V469.28h1V469.28h1V468.08h1V468.08h1V468.68h1V468.68h1V468.68h1V468.68h1V468.78h1V468.78h1V468.78h1V468.68h1V469.28h1V469.28h1V469.28h1V468.68h1V468.68h1V466.28h1V468.58h1V468.08h1V468.68h1V468.08h1V468.68h1V468.08h1V468.08h1V468.68h1V468.68h1V468.58h1V467.78h1V469.78h1V469.78h1V469.78h1V469.18h1V468.58h1V469.08h1V469.08h1V468.28h1V468.28h1V468.28h1V468.28h1V469.08h1V469.08h1V469.08h1V469.08h1V469.68h1V469.68h1V469.08h1V469.08h1V469.08h1V469.08h1V470.78h1V470.78h1V470.78h1V470.78h1V469.58h1V470.18h1V468.78h1V468.78h1V470.78h1V470.78h1V470.78h1V470.78h1V470.18h1V470.18h1V470.18h1V470.18h1V470.28h1V468.68h1V468.68h1V468.68h1V469.28h1V469.28h1V469.28h1V469.28h1V468.68h1V468.68h1V468.68h1V468.68h1V468.68h1V468.08h1V468.08h1V468.68h1V468.68h1V468.68h1V468.68h1V468.68h1V468.68h1V468.68h1V468.68h1V468.68h1V468.08h1V469.28h1V469.28h1V470.28h1V470.28h1V469.08h1V469.08h1V469.08h1V469.68h1V470.28h1V470.28h1V470.28h1V469.08h1V469.08h1V469.08h1V469.08h1V469.08h1V469.68h1V470.18h1V469.58h1V468.78h1V470.18h1V470.18h1V471.28h1V471.28h1V471.28h1V471.78h1V472.28h1V470.78h1V472.08h1V472.08h1V472.58h1V473.08h1V473.58h1V473.58h1V473.58h1V473.58h1V473.58h1V473.58h1V473.58h1V472.78h1V474.78h1V473.68h1V473.68h1V473.78h1V472.78h1V471.08h1V470.08h1V469.58h1V469.18h1V468.68h1V468.28h1V467.08h1V467.08h1V467.08h1V467.08h1V467.18h1V467.18h1V464.28h1V463.78h1V463.78h1V463.78h1V463.78h1V465.58h1V466.78h1V467.08h1V466.28h1V467.18h1V466.58h1V466.58h1V466.58h1V466.58h1V467.18h1V467.68h1V467.68h1V468.18h1V467.58h1V468.78h1V467.58h1V468.68h1V468.68h1V468.08h1V468.58h1V467.78h1V467.78h1V468.58h1V469.08h1V469.08h1V469.08h1V470.28h1V470.18h1V470.18h1V470.18h1V470.18h1V470.68h1V468.28h1V468.28h1V470.08h1V470.08h1V470.08h1V470.08h1V470.08h1V471.28h1V472.78h1V472.78h1V471.58h1V471.58h1V471.58h1V471.58h1V471.58h1V471.58h1V472.18h1V471.58h1V472.18h1V470.68h1V470.68h1V471.28h1V470.68h1V470.68h1V470.58h1V471.18h1V470.58h1V471.18h1V471.18h1V471.18h1V471.18h1V471.18h1V471.18h1V471.18h1V471.18h1V471.18h1V471.18h1V470.68h1V470.68h1V470.68h1V470.78h1V467.78h1V470.18h1V468.28h1V469.68h1V470.28h1V469.78h1V469.78h1V469.78h1V469.18h1V468.58h1V468.78h1V468.78h1V468.78h1V468.78h1V468.78h1V469.58h1V470.28h1V470.28h1V469.08h1V469.68h1V469.68h1V469.68h1V469.68h1V469.68h1V470.28h1V469.68h1V469.68h1V469.08h1V469.68h1V469.68h1V469.68h1V469.68h1V469.68h1V469.68h1V468.68h1V468.68h1V468.08h1V468.08h1V468.58h1V470.78h1V470.18h1V470.18h1V470.18h1V469.18h1V469.18h1V469.18h1V469.78h1V469.78h1V469.78h1V469.18h1V469.18h1V470.08h1V470.58h1V472.28h1V471.28h1V474.78h1V475.28h1V475.78h1V475.28h1V472.78h1V473.08h1V472.58h1V471.58h1V470.58h1V469.58h1V468.58h1V468.18h1V467.18h1V467.68h1V468.28h1V467.68h1V467.68h1V467.68h1V467.08h1V467.68h1V465.68h1V464.78h1V466.68h1V467.18h1V467.68h1V468.18h1V469.18h1V469.18h1V469.18h1V468.58h1V469.18h1V469.18h1V468.58h1V468.58h1V469.58h1V470.78h1V468.78h1V468.78h1V469.58h1V468.78h1V468.78h1V468.78h1V468.78h1V468.78h1V468.78h1V468.78h1V468.78h1V468.78h1V470.78h1V470.18h1V470.18h1V470.18h1V470.18h1V470.18h1V469.78h1V471.18h1V471.18h1V469.58h1V468.78h1V469.58h1V470.18h1V470.18h1V470.18h1V470.18h1V470.18h1V468.78h1V468.78h1V469.58h1V470.78h1V470.78h1V470.78h1V470.78h1V470.08h1V470.58h1V470.58h1V470.68h1V470.68h1V471.28h1V470.68h1V471.28h1V470.28h1V470.78h1V470.78h1V469.78h1V469.78h1V469.78h1V469.18h1V469.18h1V469.68h1V469.08h1V469.68h1V469.68h1V470.28h1V469.08h1V469.68h1V469.68h1V469.08h1V469.08h1V469.28h1V471.28h1V471.28h1V470.68h1V470.08h1V470.28h1V469.68h1V469.68h1V469.68h1V469.68h1V469.68h1V469.68h1V469.68h1V469.08h1V469.08h1V468.28h1V469.68h1V469.68h1V469.68h1V469.68h1V469.08h1V469.68h1V469.08h1V469.08h1V469.68h1V469.68h1V471.18h1V471.78h1V471.78h1V471.78h1V470.78h1V470.18h1V470.18h1V470.18h1V469.58h1V469.58h1V469.58h1V470.78h1V471.28h1V471.28h1V470.68h1V470.68h1V470.68h1V470.08h1V469.28h1V469.28h1V469.28h1V469.78h1V469.78h1V469.78h1V471.18h1V469.78h1V469.78h1V471.78h1V471.78h1V470.58h1V471.08h1V471.08h1V470.58h1V471.78h1V471.78h1V471.78h1V471.78h1V471.78h1V471.78h1V471.28h1V470.68h1V470.08h1V470.68h1V470.68h1V471.28h1V471.28h1V469.68h1V469.68h1V470.78h1V470.78h1V471.18h1V469.78h1V470.28h1V471.08h1V471.58h1V471.08h1V471.08h1V471.68h1V470.58h1V470.58h1V470.58h1V470.68h1V468.78h1V468.78h1V469.58h1V468.28h1V468.28h1V468.28h1V469.18h1V469.78h1V469.18h1V469.18h1V467.78h1V467.78h1V467.78h1V467.78h1V468.58h1V469.78h1V469.78h1V469.78h1V468.58h1V468.58h1V469.58h1V469.58h1V470.18h1V468.78h1V468.78h1V470.18h1V470.18h1V470.18h1V470.18h1V469.58h1V469.58h1V470.18h1V469.68h1V470.28h1V468.28h1V468.28h1V469.68h1V468.68h1V468.68h1V468.68h1V468.68h1V468.08h1V468.08h1V468.08h1V469.28h1V469.28h1V468.08h1V468.68h1V468.68h1V470.68h1V470.08h1V470.08h1V471.28h1V471.28h1V469.18h1V469.78h1V471.28h1V471.28h1V470.68h1V471.28h1V470.08h1V470.08h1V470.28h1V469.08h1V469.08h1V469.08h1V469.08h1V468.28h1V468.28h1V469.68h1V468.78h1V468.78h1V469.08h1V469.08h1V469.08h1V469.08h1V469.08h1V469.08h1V469.08h1V469.68h1V469.68h1V469.08h1V469.08h1V469.08h1V469.68h1V469.68h1V468.28h1V468.28h1V468.28h1V468.28h1V469.08h1V470.28h1V469.68h1V469.08h1V469.68h1V469.68h1V469.68h1V470.68h1V469.28h1V470.68h1V469.28h1V469.28h1V469.28h1V470.08h1V470.08h1V470.08h1V470.68h1V470.68h1V470.68h1V470.68h1V470.68h1V470.68h1V470.68h1V469.28h1V469.28h1V469.28h1V470.68h1V470.68h1V470.68h1V470.68h1V470.68h1V469.18h1V469.78h1V469.18h1V468.58h1V469.18h1V469.78h1V469.18h1V469.18h1V469.78h1V469.18h1V469.78h1V469.08h1V469.08h1V469.68h1V469.68h1V469.08h1V469.08h1V470.28h1V469.68h1V470.18h1V470.18h1V470.18h1V470.18h1V470.18h1V471.18h1V471.18h1V471.18h1V471.18h1V471.78h1V471.78h1V470.78h1V470.28h1V470.28h1V469.78h1V469.18h1V469.18h1V469.18h1V468.68h1V468.78h1V469.78h1V471.18h1V471.18h1V471.18h1V471.18h1V471.18h1V469.78h1V468.28h1V469.08h1V469.08h1V468.28h1V468.28h1V467.78h1V469.18h1V469.18h1V469.68h1V469.68h1V470.18h1V470.18h1V470.08h1V471.58h1V472.08h1V472.08h1V473.18h1V473.18h1V472.68h1V472.18h1V471.68h1V469.78h1V471.28h1V470.78h1V470.78h1V470.78h1V469.78h1V469.78h1V469.18h1V469.18h1V469.18h1V469.18h1V469.18h1V469.18h1V469.18h1V469.18h1V469.78h1V470.78h1V470.78h1V470.78h1V468.28h1V468.28h1V468.28h1V468.28h1V470.78h1V470.78h1V470.78h1V469.58h1V468.58h1V468.58h1V468.58h1V468.58h1V469.18h1V469.18h1V469.78h1V469.78h1V469.18h1V468.58h1V467.78h1V469.78h1V469.18h1V469.18h1V469.78h1V470.28h1V470.28h1V469.68h1V469.68h1V469.68h1V469.08h1V468.08h1V469.08h1V469.08h1V469.08h1V469.08h1V469.08h1V469.08h1V469.08h1V470.28h1V470.28h1V469.68h1V469.68h1V468.68h1V468.18h1V468.18h1V468.18h1V468.18h1V468.18h1V468.18h1V468.18h1V468.18h1V468.18h1V468.18h1V468.18h1V468.18h1V468.18h1V468.18h1V466.78h1V466.28h1V467.68h1V467.68h1V467.68h1V467.68h1V467.08h1V467.08h1V467.68h1V467.68h1V467.68h1V468.28h1V468.28h1V467.68h1V467.68h1V468.28h1V466.28h1V466.28h1V467.08h1V467.58h1V468.18h1V468.18h1V468.18h1V468.18h1V466.78h1V466.78h1V468.18h1V468.18h1V468.18h1V468.18h1V468.18h1V467.68h1V467.78h1V467.18h1V465.78h1V465.28h1V466.68h1V466.18h1V465.68h1V465.68h1V465.68h1V466.18h1V466.68h1V466.68h1V465.68h1V465.68h1V465.58h1V466.68h1V466.68h1V466.68h1V466.08h1V466.08h1V466.08h1V467.78h1V467.78h1V467.18h1V467.18h1V469.78h1V469.78h1V468.58h1V470.28h1V469.68h1V469.08h1V469.08h1V469.68h1V470.28h1V470.78h1V470.78h1V470.78h1V470.78h1V470.78h1V469.58h1V469.58h1V469.68h1V468.78h1V469.58h1V469.08h1V470.28h1V468.18h1V468.78h1V468.78h1V467.58h1V468.58h1V469.78h1V470.78h1V470.78h1V469.58h1V469.58h1V469.58h1V470.78h1V470.78h1V469.58h1V469.58h1V470.78h1V467.68h1V467.68h1V468.08h1V468.08h1V468.58h1V467.78h1V467.78h1V468.58h1V467.78h1V469.18h1V469.18h1V469.18h1V468.58h1V468.58h1V468.58h1V468.58h1V468.08h1V468.68h1V468.68h1V468.78h1V468.28h1V467.68h1V467.18h1V466.68h1V466.18h1V466.68h1V467.18h1V468.18h1V468.68h1V469.18h1V469.08h1V469.08h1V469.58h1V469.58h1V469.58h1V468.18h1V467.58h1V467.58h1V467.58h1V467.58h1V467.58h1V468.18h1V467.58h1V468.68h1V468.08h1V468.68h1V468.68h1V468.68h1V468.08h1V468.08h1V468.68h1V468.68h1V468.68h1V468.68h1V468.68h1V468.68h1V469.18h1V469.78h1V468.58h1V468.58h1V469.78h1V469.18h1V469.18h1V469.78h1V468.78h1V468.78h1V468.78h1V468.78h1V468.78h1V470.68h1V471.28h1V470.68h1V470.68h1V470.68h1V470.68h1V471.28h1V470.68h1V470.68h1V469.28h1V469.08h1V469.08h1V469.08h1V469.18h1V469.18h1V469.18h1V469.18h1V469.18h1V469.18h1V469.18h1V469.18h1V470.18h1V470.78h1V468.78h1V468.08h1V468.08h1V468.08h1V468.08h1V468.08h1V468.08h1V468.58h1V468.58h1V468.58h1V469.18h1V468.58h1V469.78h1V469.18h1V469.18h1V469.18h1V469.78h1V469.08h1V469.58h1V469.58h1V470.78h1V470.78h1V470.78h1V470.78h1V470.78h1V470.78h1V470.18h1V470.18h1V470.78h1V469.28h1V469.28h1V468.68h1V468.08h1V468.08h1V468.08h1V466.78h1V466.78h1V468.58h1V468.58h1V469.78h1V467.78h1V469.18h1V469.18h1V469.18h1V469.18h1V469.18h1V469.18h1V468.58h1V468.58h1V468.58h1V468.58h1V468.58h1V466.58h1V466.58h1V466.08h1V465.58h1V465.08h1V464.58h1V464.08h1V465.28h1V465.28h1V465.18h1V465.68h1V466.18h1V466.68h1V467.18h1V467.18h1V467.18h1V467.18h1V466.58h1V465.78h1V465.78h1V468.28h1V467.08h1V467.68h1V467.68h1V467.68h1V467.68h1V467.68h1V467.68h1V468.18h1V468.18h1V468.18h1V466.78h1V468.78h1V468.78h1V468.78h1V468.68h1V469.28h1V468.08h1V468.08h1V467.28h1V467.28h1V468.68h1V468.08h1V469.18h1V469.18h1V469.18h1V469.78h1V469.78h1V471.28h1V471.28h1V468.28h1V471.78h1V470.58h1V470.58h1V470.58h1V470.68h1V470.68h1V470.18h1V470.18h1V470.18h1V470.18h1V470.18h1V470.28h1V469.68h1V470.28h1V469.08h1V469.08h1V469.08h1V469.08h1V469.58h1V469.58h1V469.58h1V469.58h1V469.58h1V469.58h1V469.58h1V470.28h1V479.78h-1V480.28h-1V480.28h-1V480.28h-1V480.28h-1V479.68h-1V479.68h-1V479.68h-1V479.18h-1V480.38h-1V479.78h-1V479.78h-1V479.78h-1V479.78h-1V479.78h-1V480.28h-1V479.68h-1V479.68h-1V479.68h-1V479.68h-1V480.18h-1V481.38h-1V481.88h-1V481.88h-1V480.68h-1V480.68h-1V480.18h-1V480.18h-1V480.18h-1V479.88h-1V481.68h-1V481.68h-1V481.68h-1V479.88h-1V479.38h-1V479.38h-1V478.78h-1V478.18h-1V478.18h-1V479.38h-1V478.78h-1V478.78h-1V478.28h-1V478.28h-1V478.88h-1V478.88h-1V478.28h-1V478.28h-1V478.28h-1V477.78h-1V477.78h-1V477.78h-1V477.18h-1V477.18h-1V478.38h-1V477.78h-1V479.18h-1V477.28h-1V477.28h-1V477.28h-1V478.68h-1V478.68h-1V478.68h-1V478.68h-1V478.18h-1V477.68h-1V476.38h-1V475.28h-1V476.18h-1V475.38h-1V475.38h-1V475.88h-1V476.38h-1V478.68h-1V476.78h-1V479.68h-1V479.68h-1V479.88h-1V479.88h-1V479.28h-1V479.28h-1V479.28h-1V480.68h-1V479.88h-1V479.88h-1V478.68h-1V479.88h-1V479.28h-1V479.28h-1V479.28h-1V479.28h-1V478.68h-1V478.68h-1V481.68h-1V481.18h-1V478.78h-1V478.78h-1V478.78h-1V479.38h-1V479.38h-1V480.88h-1V480.88h-1V480.88h-1V480.88h-1V480.88h-1V480.88h-1V480.28h-1V480.88h-1V480.28h-1V480.28h-1V480.28h-1V479.18h-1V478.68h-1V478.68h-1V479.88h-1V479.28h-1V479.88h-1V479.88h-1V479.88h-1V479.88h-1V478.68h-1V479.28h-1V478.78h-1V478.78h-1V479.38h-1V479.38h-1V478.18h-1V478.18h-1V479.68h-1V479.68h-1V479.68h-1V478.68h-1V479.28h-1V480.68h-1V479.88h-1V479.88h-1V479.28h-1V479.28h-1V479.88h-1V480.38h-1V479.78h-1V481.18h-1V481.38h-1V481.38h-1V481.38h-1V480.78h-1V480.78h-1V480.78h-1V481.38h-1V481.38h-1V481.38h-1V481.38h-1V477.68h-1V477.68h-1V477.68h-1V478.28h-1V478.28h-1V479.28h-1V478.68h-1V478.68h-1V479.28h-1V479.28h-1V479.28h-1V479.28h-1V479.28h-1V480.18h-1V480.18h-1V480.18h-1V478.18h-1V478.18h-1V478.18h-1V479.38h-1V479.38h-1V481.18h-1V478.78h-1V478.18h-1V478.18h-1V478.78h-1V478.88h-1V477.68h-1V477.68h-1V478.28h-1V478.28h-1V478.28h-1V478.28h-1V478.28h-1V480.28h-1V480.88h-1V480.88h-1V479.78h-1V480.38h-1V479.28h-1V478.78h-1V478.28h-1V478.68h-1V476.78h-1V476.28h-1V476.78h-1V477.28h-1V477.78h-1V477.78h-1V478.28h-1V479.38h-1V480.18h-1V478.78h-1V478.68h-1V478.68h-1V479.88h-1V479.88h-1V478.68h-1V478.68h-1V478.68h-1V479.28h-1V478.68h-1V479.88h-1V479.28h-1V480.68h-1V480.18h-1V480.18h-1V477.78h-1V477.18h-1V480.28h-1V480.28h-1V480.28h-1V480.28h-1V479.68h-1V479.68h-1V479.68h-1V480.88h-1V480.28h-1V480.28h-1V479.28h-1V479.28h-1V478.88h-1V478.88h-1V478.88h-1V478.88h-1V480.38h-1V480.38h-1V480.88h-1V480.28h-1V479.78h-1V480.28h-1V479.68h-1V480.28h-1V480.88h-1V480.88h-1V480.88h-1V480.28h-1V479.78h-1V479.78h-1V479.78h-1V480.38h-1V481.18h-1V480.38h-1V479.28h-1V479.28h-1V478.68h-1V477.28h-1V477.88h-1V477.28h-1V477.28h-1V476.18h-1V476.18h-1V477.38h-1V476.78h-1V476.78h-1V476.18h-1V477.68h-1V475.78h-1V475.78h-1V476.78h-1V476.78h-1V476.28h-1V475.78h-1V475.78h-1V475.78h-1V476.88h-1V476.18h-1V476.18h-1V476.68h-1V476.68h-1V476.68h-1V477.18h-1V478.88h-1V478.88h-1V478.88h-1V478.28h-1V478.28h-1V478.28h-1V477.68h-1V478.88h-1V479.68h-1V479.68h-1V478.28h-1V480.68h-1V477.78h-1V477.78h-1V480.18h-1V477.78h-1V478.38h-1V478.38h-1V478.38h-1V478.38h-1V478.38h-1V477.18h-1V477.18h-1V477.18h-1V479.18h-1V479.18h-1V479.18h-1V477.78h-1V477.78h-1V477.78h-1V478.88h-1V477.68h-1V478.28h-1V478.28h-1V478.28h-1V478.88h-1V478.28h-1V478.28h-1V478.28h-1V478.28h-1V478.28h-1V478.28h-1V479.68h-1V479.68h-1V479.68h-1V479.38h-1V479.18h-1V479.78h-1V479.78h-1V479.78h-1V479.78h-1V479.18h-1V479.18h-1V479.18h-1V479.18h-1V479.18h-1V479.18h-1V478.18h-1V479.18h-1V479.78h-1V479.78h-1V479.78h-1V480.38h-1V480.38h-1V478.68h-1V480.68h-1V480.68h-1V478.68h-1V479.28h-1V479.28h-1V479.28h-1V479.88h-1V479.28h-1V478.68h-1V478.68h-1V478.68h-1V478.68h-1V478.68h-1V478.68h-1V480.28h-1V480.28h-1V479.68h-1V479.68h-1V477.78h-1V477.78h-1V477.78h-1V477.18h-1V479.68h-1V479.68h-1V479.68h-1V479.88h-1V480.68h-1V480.68h-1V478.68h-1V478.68h-1V480.68h-1V480.68h-1V480.68h-1V479.28h-1V479.28h-1V479.28h-1V480.88h-1V480.28h-1V480.28h-1V483.18h-1V481.88h-1V481.78h-1V482.28h-1V482.78h-1V483.28h-1V482.68h-1V483.38h-1V483.38h-1V482.88h-1V482.18h-1V480.28h-1V480.28h-1V479.78h-1V480.38h-1V479.88h-1V479.88h-1V480.68h-1V479.78h-1V479.78h-1V479.78h-1V479.78h-1V482.18h-1V483.68h-1V481.28h-1V481.28h-1V482.68h-1V482.68h-1V480.68h-1V480.68h-1V480.28h-1V480.18h-1V480.68h-1V480.68h-1V478.68h-1V479.28h-1V479.78h-1V480.38h-1V480.28h-1V481.28h-1V481.28h-1V481.28h-1V481.28h-1V481.28h-1V480.68h-1V481.68h-1V481.68h-1V480.28h-1V480.28h-1V480.28h-1V479.78h-1V481.18h-1V481.18h-1V479.78h-1V479.78h-1V479.78h-1V479.78h-1V479.78h-1V479.28h-1V479.28h-1V479.88h-1V478.68h-1V479.28h-1V479.28h-1V478.68h-1V478.68h-1V479.88h-1V479.88h-1V479.28h-1V480.78h-1V480.78h-1V480.78h-1V480.18h-1V480.18h-1V480.78h-1V480.18h-1V480.18h-1V480.18h-1V480.18h-1V482.18h-1V482.18h-1V480.18h-1V480.18h-1V480.18h-1V480.18h-1V480.18h-1V480.18h-1V480.18h-1V480.18h-1V480.78h-1V482.18h-1V482.18h-1V482.18h-1V481.18h-1V479.78h-1V481.18h-1V481.18h-1V481.18h-1V481.18h-1V479.78h-1V479.78h-1V479.78h-1V479.78h-1V479.78h-1V479.78h-1V479.78h-1V481.18h-1V479.78h-1V479.78h-1V479.78h-1V479.18h-1V479.18h-1V479.18h-1V479.78h-1V479.78h-1V479.78h-1V480.38h-1V479.78h-1V480.28h-1V480.28h-1V480.38h-1V480.38h-1V479.78h-1V479.78h-1V479.78h-1V480.38h-1V480.38h-1V480.38h-1V481.38h-1V481.38h-1V481.38h-1V481.38h-1V480.18h-1V480.18h-1V478.68h-1V479.88h-1V481.38h-1V481.38h-1V480.78h-1V480.78h-1V480.78h-1V479.38h-1V480.18h-1V478.18h-1V478.18h-1V478.18h-1V478.78h-1V478.78h-1V478.78h-1V478.18h-1V478.78h-1V478.78h-1V478.18h-1V479.18h-1V480.38h-1V480.38h-1V480.38h-1V480.38h-1V480.28h-1V479.68h-1V480.28h-1V480.28h-1V480.28h-1V480.28h-1V480.88h-1V480.88h-1V480.28h-1V480.88h-1V480.88h-1V480.88h-1V479.88h-1V479.28h-1V479.88h-1V479.88h-1V479.88h-1V478.68h-1V478.68h-1V478.68h-1V480.68h-1V479.28h-1V479.28h-1V479.28h-1V479.28h-1V479.28h-1V479.78h-1V479.78h-1V479.78h-1V482.68h-1V482.68h-1V480.28h-1V480.18h-1V483.68h-1V481.28h-1V481.28h-1V481.78h-1V481.78h-1V481.78h-1V482.28h-1V481.78h-1V481.78h-1V481.88h-1V481.28h-1V479.68h-1V479.68h-1V479.18h-1V479.18h-1V480.18h-1V480.18h-1V481.38h-1V480.18h-1V480.18h-1V480.78h-1V480.78h-1V481.88h-1V483.68h-1V483.68h-1V483.68h-1V482.68h-1V482.68h-1V481.88h-1V482.38h-1V482.38h-1V480.68h-1V482.68h-1V480.68h-1V481.88h-1V481.88h-1V481.88h-1V481.28h-1V481.28h-1V481.28h-1V480.18h-1V482.18h-1V480.78h-1V481.38h-1V481.38h-1V481.38h-1V480.78h-1V483.18h-1V483.18h-1V482.68h-1V480.28h-1V481.68h-1V480.28h-1V480.28h-1V480.28h-1V480.28h-1V479.68h-1V481.28h-1V481.28h-1V480.68h-1V480.68h-1V479.18h-1V479.18h-1V479.18h-1V479.18h-1V479.18h-1V479.18h-1V479.78h-1V479.18h-1V481.18h-1V479.18h-1V479.18h-1V479.18h-1V479.78h-1V479.78h-1V480.38h-1V481.18h-1V479.78h-1V479.78h-1V479.78h-1V479.78h-1V479.78h-1V480.78h-1V480.18h-1V480.18h-1V480.18h-1V480.18h-1V480.38h-1V479.78h-1V479.78h-1V481.18h-1V481.18h-1V480.38h-1V480.38h-1V479.78h-1V479.78h-1V479.78h-1V479.28h-1V479.28h-1V479.28h-1V479.28h-1V479.28h-1V481.68h-1V482.68h-1V481.18h-1V482.18h-1V481.38h-1V481.38h-1V481.38h-1V480.78h-1V481.28h-1V481.28h-1V480.78h-1V480.88h-1V479.68h-1V479.68h-1V480.88h-1V480.88h-1V480.88h-1V480.88h-1V480.88h-1V480.88h-1V480.28h-1V480.28h-1V479.68h-1V479.68h-1V480.28h-1V480.28h-1V481.28h-1V481.28h-1V481.28h-1V480.88h-1V480.28h-1V480.28h-1V480.28h-1V481.68h-1V480.28h-1V480.28h-1V481.68h-1V481.68h-1V480.28h-1V480.28h-1V480.88h-1V479.68h-1V481.68h-1V480.28h-1V480.28h-1V482.68h-1V482.68h-1V480.88h-1V480.88h-1V479.88h-1V479.88h-1V479.28h-1V479.28h-1V479.28h-1V478.68h-1V478.68h-1V478.68h-1V477.68h-1V477.78h-1V477.28h-1V476.78h-1V476.28h-1V475.78h-1V477.78h-1V477.78h-1V477.78h-1V477.18h-1V478.38h-1V478.38h-1V478.38h-1V477.88h-1V477.68h-1V478.68h-1V481.68h-1V482.68h-1V482.88h-1V483.88h-1V484.38h-1V484.88h-1V485.38h-1V485.88h-1V485.38h-1V484.88h-1V483.38h-1V482.38h-1V481.88h-1V482.18h-1V479.28h-1V479.28h-1V479.28h-1V479.28h-1V479.28h-1V479.88h-1V479.88h-1V479.28h-1V480.28h-1V480.28h-1V480.28h-1V479.68h-1V478.68h-1V478.18h-1V478.78h-1V478.18h-1V479.38h-1V480.38h-1V479.78h-1V479.18h-1V479.78h-1V479.78h-1V479.78h-1V479.18h-1V479.18h-1V479.78h-1V479.78h-1V481.18h-1V481.18h-1V479.18h-1V479.18h-1V479.18h-1V479.18h-1V479.18h-1V479.18h-1V480.28h-1V480.28h-1V480.28h-1V479.68h-1V479.68h-1V480.88h-1V479.28h-1V479.28h-1V479.28h-1V479.28h-1V479.28h-1V479.78h-1V479.78h-1V479.78h-1V480.28h-1V480.28h-1V480.28h-1V480.78h-1V480.78h-1V480.78h-1V481.88h-1V480.68h-1V480.68h-1V481.28h-1V481.28h-1V481.28h-1V482.68h-1V480.68h-1V481.88h-1V481.88h-1V481.88h-1V481.88h-1V481.28h-1V480.78h-1V480.78h-1V480.78h-1V480.78h-1V480.78h-1V481.68h-1V482.28h-1V482.28h-1V482.28h-1V482.88h-1V482.88h-1V481.68h-1V482.28h-1V482.28h-1V482.28h-1V482.28h-1V480.78h-1V480.78h-1V480.78h-1V480.78h-1V481.38h-1V481.38h-1V480.78h-1V480.78h-1V480.78h-1V480.28h-1V480.28h-1V480.28h-1V480.28h-1V479.78h-1V479.78h-1V482.18h-1V482.18h-1V481.68h-1V478.68h-1V478.68h-1V478.68h-1V478.18h-1V478.18h-1V478.18h-1V477.68h-1V478.88h-1V478.88h-1V478.88h-1V477.78h-1V477.78h-1V477.28h-1V477.28h-1V477.28h-1V477.28h-1V477.28h-1V477.28h-1V478.38h-1V478.38h-1V477.68h-1V477.68h-1V476.28h-1V476.28h-1V476.28h-1V476.28h-1V477.38h-1V478.68h-1V478.68h-1V478.38h-1V478.38h-1V477.78h-1V477.78h-1V477.18h-1V478.78h-1V480.68h-1V480.28h-1V480.18h-1V481.78h-1V482.28h-1V483.28h-1V484.38h-1V483.78h-1V484.28h-1V484.88h-1V484.28h-1V484.28h-1V484.28h-1V483.68h-1V484.28h-1V484.28h-1V484.28h-1V483.18h-1V484.68h-1V482.78h-1V482.78h-1V482.28h-1V482.38h-1V481.28h-1V480.78h-1V480.78h-1V480.78h-1V480.28h-1V480.28h-1V480.28h-1V479.68h-1V479.68h-1V479.78h-1V479.78h-1V479.78h-1V479.78h-1V479.78h-1V480.38h-1V480.38h-1V480.38h-1V480.38h-1V479.78h-1V479.78h-1V479.78h-1V480.38h-1V481.18h-1V481.18h-1V478.78h-1V478.78h-1V480.18h-1V479.38h-1V479.38h-1V479.38h-1V479.38h-1V479.38h-1V479.38h-1V479.38h-1V479.38h-1V478.78h-1V479.38h-1V479.38h-1V479.38h-1V479.38h-1V479.38h-1V478.78h-1V478.78h-1V478.18h-1V478.18h-1V479.38h-1V479.38h-1V478.18h-1V478.18h-1V478.78h-1V479.78h-1V479.68h-1V479.68h-1V479.68h-1V479.68h-1V479.68h-1V480.88h-1V480.88h-1V480.88h-1V479.68h-1V479.68h-1V479.68h-1V482.68h-1V482.68h-1V480.28h-1V479.68h-1V482.68h-1V482.18h-1V479.78h-1V480.38h-1V480.38h-1V479.78h-1V480.38h-1V479.78h-1V479.18h-1V479.18h-1V480.38h-1V479.78h-1V479.78h-1V479.78h-1V480.38h-1V479.78h-1V480.38h-1V479.88h-1V479.88h-1V479.88h-1V479.88h-1V478.68h-1V479.88h-1V479.88h-1V479.38h-1V479.38h-1V478.78h-1V478.78h-1V478.78h-1V478.78h-1V478.18h-1V478.78h-1V479.28h-1V478.78h-1V479.38h-1V479.38h-1V479.38h-1V479.38h-1V478.78h-1V478.78h-1V480.88h-1V480.88h-1V480.28h-1V478.18h-1V478.78h-1V478.78h-1V480.18h-1V480.18h-1V478.18h-1V478.78h-1V478.78h-1V478.28h-1V478.28h-1V478.28h-1V478.28h-1V478.88h-1V479.88h-1V479.88h-1V479.28h-1V479.28h-1V481.68h-1V481.68h-1V478.68h-1V478.68h-1V478.68h-1V478.68h-1V479.28h-1V479.28h-1V479.28h-1V479.28h-1V479.28h-1V479.28h-1V479.28h-1V479.78h-1V479.78h-1V479.78h-1V480.38h-1V479.78h-1V479.78h-1V479.78h-1V480.38h-1V479.78h-1V479.78h-1V479.78h-1V480.38h-1V479.88h-1V478.38h-1V480.18h-1V477.88h-1V478.18h-1V478.18h-1V477.68h-1V476.28h-1V476.28h-1V476.78h-1V476.18h-1V476.18h-1V476.18h-1V475.78h-1V475.78h-1V475.68h-1V478.88h-1V479.38h-1V478.18h-1V478.78h-1V478.78h-1V479.38h-1V478.78h-1V476.28h-1V476.78h-1V477.38h-1V477.88h-1V476.68h-1V476.68h-1V476.68h-1V476.68h-1V477.88h-1V477.88h-1V477.88h-1V477.78h-1V477.78h-1V478.38h-1V478.28h-1V478.28h-1V478.28h-1V478.28h-1V478.28h-1V478.28h-1V478.28h-1V478.28h-1V478.28h-1V478.78h-1V478.78h-1V478.78h-1V478.78h-1V478.78h-1V478.78h-1V478.78h-1V478.78h-1V478.78h-1V480.18h-1V478.78h-1V478.78h-1V478.78h-1V478.78h-1V478.18h-1V478.28h-1V478.28h-1V479.68h-1V479.38h-1V478.78h-1V479.38h-1V479.38h-1V479.88h-1V480.68h-1V479.28h-1V479.28h-1V479.28h-1V479.28h-1V479.78h-1V478.78h-1V478.18h-1V479.38h-1V479.38h-1V481.18h-1V478.78h-1V477.68h-1V478.28h-1V478.88h-1V478.38h-1V478.38h-1V477.88h-1V477.88h-1V477.88h-1V477.38h-1V477.38h-1V477.88h-1V477.88h-1V476.68h-1V476.68h-1V476.68h-1V477.28h-1V477.28h-1V477.78h-1V476.78h-1V476.78h-1V477.88h-1V478.68h-1V477.28h-1V477.28h-1V477.28h-1V478.68h-1V477.28h-1V477.78h-1V477.78h-1V477.78h-1V477.78h-1V477.18h-1V477.18h-1V477.68h-1V477.18h-1V477.18h-1V477.18h-1V476.68h-1V478.28h-1V477.18h-1V478.38h-1V478.18h-1V478.18h-1V477.68h-1V477.68h-1V478.18h-1V479.38h-1V478.78h-1V478.78h-1V478.78h-1V478.78h-1V478.78h-1V478.78h-1V479.38h-1V478.18h-1V478.18h-1V478.78h-1V478.78h-1V479.28h-1V479.28h-1V479.28h-1V477.78h-1V477.28h-1V478.68h-1V477.28h-1V477.28h-1V477.28h-1V478.68h-1V479.18h-1V479.68h-1V478.28h-1V478.88h-1V478.28h-1V477.68h-1V479.68h-1V479.68h-1V477.68h-1V477.68h-1V479.28h-1V479.28h-1V478.68h-1V481.68h-1V479.88h-1V479.88h-1V479.88h-1V479.28h-1V479.28h-1V479.28h-1V479.28h-1V479.28h-1Z"/>
<polyline stroke="#d0232a" stroke-width="6.5" stroke-linejoin="round" points="167.8,474.5 168.2,474.5 168.6,474.5 169.0,474.5 169.4,474.5 169.8,474.5 170.2,474.5 170.6,474.4 171.0,474.4 171.4,474.4 171.8,474.4 172.2,474.4 172.6,474.4 173.0,474.4 173.4,474.4 173.8,474.6 174.2,475.1 174.6,475.7 175.0,476.2 175.4,478.9 175.8,483.4 176.2,491.7 176.6,505.3 177.0,520.7 177.4,541.9 177.8,564.6 178.2,597.8 178.6,623.7 179.0,645.1 179.4,665.9 179.8,685.9 180.2,706.0 180.6,727.6 181.0,749.3 181.4,770.9 181.8,792.0 182.2,811.9 182.6,826.1 183.0,834.7 183.4,843.3 183.8,851.8 184.2,860.4 184.6,851.8 185.0,843.3 185.4,834.7 185.8,826.1 186.2,811.9 186.6,792.0 187.0,770.8 187.4,749.2 187.8,727.6 188.2,706.0 188.6,685.9 189.0,665.8 189.4,645.0 189.8,623.6 190.2,597.7 190.6,564.5 191.0,541.8 191.4,520.6 191.8,505.2 192.2,491.5 192.6,483.3 193.0,478.7 193.4,476.1 193.8,475.5 194.2,475.0 194.6,474.4 195.0,474.3 195.4,474.3 195.8,474.3 196.2,474.3 196.6,474.3 197.0,474.3 197.4,474.2 197.8,474.2 198.2,474.2 198.6,474.2 199.0,474.2 199.4,474.2 199.8,474.2 200.2,474.2 200.6,474.2 201.0,474.2"/>
<polyline stroke="#8abd4f" stroke-width="6.9" stroke-linejoin="bevel" points="128.2,1054.3 1043.5,1054.3 1043.5,101.2 1443.0,101.2"/>
</g>
<text transform="translate(114.0,1069.5) scale(1,1.055)" font-size="40.2" fill="#4272b8" text-anchor="end">0</text>
<text transform="translate(114.0,921.5) scale(1,1.055)" font-size="40.2" fill="#4272b8" text-anchor="end">0.5</text>
<text transform="translate(114.0,773.4) scale(1,1.055)" font-size="40.2" fill="#4272b8" text-anchor="end">1</text>
<text transform="translate(114.0,625.4) scale(1,1.055)" font-size="40.2" fill="#4272b8" text-anchor="end">1.5</text>
<text transform="translate(114.0,477.4) scale(1,1.055)" font-size="40.2" fill="#4272b8" text-anchor="end">2</text>
<text transform="translate(114.0,329.4) scale(1,1.055)" font-size="40.2" fill="#4272b8" text-anchor="end">2.5</text>
<text transform="translate(114.0,181.3) scale(1,1.055)" font-size="40.2" fill="#4272b8" text-anchor="end">3</text>
<text transform="translate(114.0,33.3) scale(1,1.055)" font-size="40.2" fill="#4272b8" text-anchor="end">3.5</text>
<text transform="translate(1458.0,1069.5) scale(1,1.055)" font-size="40.2" fill="#c1562b" text-anchor="start">0</text>
<text transform="translate(1458.0,954.4) scale(1,1.055)" font-size="40.2" fill="#c1562b" text-anchor="start">100</text>
<text transform="translate(1458.0,839.2) scale(1,1.055)" font-size="40.2" fill="#c1562b" text-anchor="start">200</text>
<text transform="translate(1458.0,724.1) scale(1,1.055)" font-size="40.2" fill="#c1562b" text-anchor="start">300</text>
<text transform="translate(1458.0,609.0) scale(1,1.055)" font-size="40.2" fill="#c1562b" text-anchor="start">400</text>
<text transform="translate(1458.0,493.8) scale(1,1.055)" font-size="40.2" fill="#c1562b" text-anchor="start">500</text>
<text transform="translate(1458.0,378.7) scale(1,1.055)" font-size="40.2" fill="#c1562b" text-anchor="start">600</text>
<text transform="translate(1458.0,263.6) scale(1,1.055)" font-size="40.2" fill="#c1562b" text-anchor="start">700</text>
<text transform="translate(1458.0,148.4) scale(1,1.055)" font-size="40.2" fill="#c1562b" text-anchor="start">800</text>
<text transform="translate(1458.0,33.3) scale(1,1.055)" font-size="40.2" fill="#c1562b" text-anchor="start">900</text>
<text transform="translate(275.8,1111.2) scale(1,1.055)" font-size="40.2" fill="#2b2a2a" text-anchor="middle">-8</text>
<text transform="translate(470.1,1111.2) scale(1,1.055)" font-size="40.2" fill="#2b2a2a" text-anchor="middle">-6</text>
<text transform="translate(664.5,1111.2) scale(1,1.055)" font-size="40.2" fill="#2b2a2a" text-anchor="middle">-4</text>
<text transform="translate(858.8,1111.2) scale(1,1.055)" font-size="40.2" fill="#2b2a2a" text-anchor="middle">-2</text>
<text transform="translate(1053.1,1111.2) scale(1,1.055)" font-size="40.2" fill="#2b2a2a" text-anchor="middle">0</text>
<text transform="translate(1247.4,1111.2) scale(1,1.055)" font-size="40.2" fill="#2b2a2a" text-anchor="middle">2</text>
<text transform="translate(1440.7,1111.2) scale(1,1.055)" font-size="40.2" fill="#2b2a2a" text-anchor="middle">4</text>
<text x="1335.0" y="1184.2" font-size="53.7" fill="#2b2a2a" style="font-family:'Liberation Serif',serif;font-weight:normal">×</text>
<text transform="translate(1367.6,1176.9) scale(1,1.055)" font-size="40.2" fill="#2b2a2a" text-anchor="start">10</text>
<text transform="translate(1413.6,1157.5) scale(1,1.055)" font-size="30.6" fill="#2b2a2a" text-anchor="start">-5</text>
<text transform="translate(785.6,1170.3) scale(1,1.03)" font-size="44.3" fill="#2b2a2a" text-anchor="middle">Time/s</text>
<text transform="translate(36.2,535.5) rotate(-90) scale(1,0.985)" font-size="44.4" fill="#4272b8" text-anchor="middle">Amplitude/V</text>
<text transform="translate(1583.6,537.3) rotate(-90) scale(1,0.97)" font-size="43.8" fill="#c1562b" text-anchor="middle">Amplitude/kPa</text>
<rect x="251.0" y="49.8" width="675.7" height="159.6" fill="#fff" stroke="#262223" stroke-width="4"/>
<line x1="262.2" y1="80.0" x2="383.6" y2="80.0" stroke="#4754a4" stroke-width="6.8"/>
<text transform="translate(392.3,95.2) scale(1,1.04)" font-size="36.15" fill="#000" text-anchor="start">Recorded step pressure (V)</text>
<line x1="262.2" y1="130.2" x2="383.6" y2="130.2" stroke="#d0232a" stroke-width="6.8"/>
<text transform="translate(392.3,144.4) scale(1,1.04)" font-size="36.15" fill="#000" text-anchor="start">Recorded optical signal (V)</text>
<line x1="262.2" y1="179.6" x2="383.6" y2="179.6" stroke="#8abd4f" stroke-width="6.8"/>
<text transform="translate(392.3,194.0) scale(1,1.04)" font-size="36.15" fill="#000" text-anchor="start">Reference step pressure (kPa)</text>
<line x1="214.8" y1="405.0" x2="185.2" y2="450.3" stroke="#000" stroke-width="4"/><path d="M175.9 464.6 L181.3 441.1 L184.7 451.2 L195.2 450.2 Z" fill="#000" stroke="#000" stroke-width="1.8" stroke-linejoin="round"/>
<line x1="1077.5" y1="50.2" x2="1054.2" y2="82.4" stroke="#000" stroke-width="4"/><path d="M1044.1 96.3 L1050.7 73.0 L1053.6 83.2 L1064.2 82.8 Z" fill="#000" stroke="#000" stroke-width="1.8" stroke-linejoin="round"/>
<line x1="1094.3" y1="998.0" x2="1070.6" y2="1029.9" stroke="#000" stroke-width="4"/><path d="M1060.4 1043.6 L1067.3 1020.4 L1070.0 1030.7 L1080.6 1030.3 Z" fill="#000" stroke="#000" stroke-width="1.8" stroke-linejoin="round"/>
<text transform="translate(223.3,382.2) scale(1.04,1.10)" font-size="47" fill="#000" class="it">t</text><text transform="translate(236.2,386.0) scale(1,1.04)" font-size="32" fill="#000">optic</text>
<text transform="translate(1084.6,57.9) scale(1.04,1.10)" font-size="47" fill="#000" class="it">t</text><text transform="translate(1099.0,63.9) scale(1,1.04)" font-size="32" fill="#000">ref</text>
<text transform="translate(1102.9,985.4) scale(1.04,1.10)" font-size="47" fill="#000" class="it">t</text><text transform="translate(1115.3,994.9) scale(1,1.04)" font-size="32" fill="#000">rec</text>
</svg></body></html>
